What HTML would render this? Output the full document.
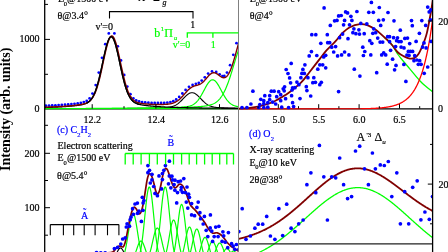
<!DOCTYPE html>
<html><head><meta charset="utf-8"><title>Spectra</title>
<style>html,body{margin:0;padding:0;background:#fff;width:448px;height:252px;overflow:hidden}svg{display:block;filter:blur(0.3px)}</style>
</head><body>
<svg width="448" height="252" viewBox="0 0 448 252" font-family="'Liberation Serif', serif"><defs><clipPath id="ca"><rect x="45" y="-5" width="193.5" height="114.2"/></clipPath><clipPath id="cb"><rect x="238.5" y="-5" width="194.1" height="114.5"/></clipPath><clipPath id="cc"><rect x="45" y="109" width="193.5" height="150"/></clipPath><clipPath id="cd"><rect x="238.5" y="109" width="194.1" height="150"/></clipPath></defs>
<line x1="45" y1="108.9" x2="432.6" y2="108.9" stroke="#000" stroke-width="1.3"/>
<g fill="#0000ff" clip-path="url(#ca)">
<circle cx="45.8" cy="105.7" r="1.4"/>
<circle cx="49.0" cy="105.6" r="1.4"/>
<circle cx="52.2" cy="105.4" r="1.4"/>
<circle cx="55.4" cy="105.3" r="1.4"/>
<circle cx="58.6" cy="105.1" r="1.4"/>
<circle cx="61.8" cy="104.9" r="1.4"/>
<circle cx="65.0" cy="104.7" r="1.4"/>
<circle cx="68.2" cy="104.4" r="1.4"/>
<circle cx="71.4" cy="104.1" r="1.4"/>
<circle cx="74.5" cy="103.8" r="1.4"/>
<circle cx="77.7" cy="103.4" r="1.4"/>
<circle cx="80.8" cy="102.9" r="1.4"/>
<circle cx="83.8" cy="102.1" r="1.4"/>
<circle cx="86.7" cy="100.9" r="1.4"/>
<circle cx="89.6" cy="98.4" r="1.4"/>
<circle cx="92.5" cy="93.6" r="1.4"/>
<circle cx="95.7" cy="85.1" r="1.4"/>
<circle cx="98.8" cy="72.6" r="1.4"/>
<circle cx="102.0" cy="57.8" r="1.4"/>
<circle cx="105.3" cy="44.2" r="1.4"/>
<circle cx="108.8" cy="33.4" r="1.4"/>
<circle cx="114.4" cy="33.4" r="1.4"/>
<circle cx="117.8" cy="46.3" r="1.4"/>
<circle cx="121.0" cy="60.4" r="1.4"/>
<circle cx="124.2" cy="74.9" r="1.4"/>
<circle cx="127.3" cy="86.6" r="1.4"/>
<circle cx="130.4" cy="94.2" r="1.4"/>
<circle cx="133.4" cy="98.4" r="1.4"/>
<circle cx="136.2" cy="100.5" r="1.4"/>
<circle cx="139.1" cy="101.5" r="1.4"/>
<circle cx="142.1" cy="102.1" r="1.4"/>
<circle cx="145.2" cy="102.4" r="1.4"/>
<circle cx="148.4" cy="102.7" r="1.4"/>
<circle cx="151.6" cy="102.9" r="1.4"/>
<circle cx="154.7" cy="103.0" r="1.4"/>
<circle cx="157.9" cy="103.0" r="1.4"/>
<circle cx="161.1" cy="103.0" r="1.4"/>
<circle cx="164.2" cy="102.9" r="1.4"/>
<circle cx="167.3" cy="102.6" r="1.4"/>
<circle cx="170.4" cy="102.1" r="1.4"/>
<circle cx="173.3" cy="101.2" r="1.4"/>
<circle cx="176.2" cy="99.5" r="1.4"/>
<circle cx="179.2" cy="96.9" r="1.4"/>
<circle cx="182.4" cy="93.5" r="1.4"/>
<circle cx="185.6" cy="89.9" r="1.4"/>
<circle cx="189.0" cy="86.8" r="1.4"/>
<circle cx="192.6" cy="84.9" r="1.4"/>
<circle cx="195.9" cy="83.8" r="1.4"/>
<circle cx="198.8" cy="82.8" r="1.4"/>
<circle cx="201.7" cy="80.6" r="1.4"/>
<circle cx="204.8" cy="77.3" r="1.4"/>
<circle cx="208.1" cy="73.6" r="1.4"/>
<circle cx="212.0" cy="71.4" r="1.4"/>
<circle cx="216.2" cy="72.0" r="1.4"/>
<circle cx="219.6" cy="74.3" r="1.4"/>
<circle cx="222.4" cy="76.1" r="1.4"/>
<circle cx="224.3" cy="75.9" r="1.4"/>
<circle cx="227.0" cy="72.6" r="1.4"/>
<circle cx="230.1" cy="65.2" r="1.4"/>
<circle cx="233.3" cy="54.8" r="1.4"/>
<circle cx="236.5" cy="43.2" r="1.4"/>
</g>
<g clip-path="url(#ca)" fill="none" stroke-linejoin="round">
<path d="M45.00,108.64 L45.50,108.64 L46.00,108.64 L46.50,108.64 L47.00,108.64 L47.50,108.64 L48.00,108.64 L48.50,108.64 L49.00,108.64 L49.50,108.64 L50.00,108.63 L50.50,108.63 L51.00,108.63 L51.50,108.63 L52.00,108.63 L52.50,108.63 L53.00,108.63 L53.50,108.63 L54.00,108.63 L54.50,108.63 L55.00,108.63 L55.50,108.63 L56.00,108.63 L56.50,108.63 L57.00,108.63 L57.50,108.63 L58.00,108.63 L58.50,108.63 L59.00,108.63 L59.50,108.63 L60.00,108.63 L60.50,108.62 L61.00,108.62 L61.50,108.62 L62.00,108.62 L62.50,108.62 L63.00,108.62 L63.50,108.62 L64.00,108.62 L64.50,108.62 L65.00,108.62 L65.50,108.62 L66.00,108.62 L66.50,108.62 L67.00,108.62 L67.50,108.62 L68.00,108.62 L68.50,108.61 L69.00,108.61 L69.50,108.61 L70.00,108.61 L70.50,108.61 L71.00,108.61 L71.50,108.61 L72.00,108.61 L72.50,108.61 L73.00,108.61 L73.50,108.61 L74.00,108.61 L74.50,108.61 L75.00,108.61 L75.50,108.60 L76.00,108.60 L76.50,108.60 L77.00,108.60 L77.50,108.60 L78.00,108.60 L78.50,108.60 L79.00,108.60 L79.50,108.60 L80.00,108.60 L80.50,108.60 L81.00,108.60 L81.50,108.59 L82.00,108.59 L82.50,108.59 L83.00,108.59 L83.50,108.59 L84.00,108.59 L84.50,108.59 L85.00,108.59 L85.50,108.59 L86.00,108.59 L86.50,108.59 L87.00,108.58 L87.50,108.58 L88.00,108.58 L88.50,108.58 L89.00,108.58 L89.50,108.58 L90.00,108.58 L90.50,108.58 L91.00,108.58 L91.50,108.57 L92.00,108.57 L92.50,108.57 L93.00,108.57 L93.50,108.57 L94.00,108.57 L94.50,108.57 L95.00,108.57 L95.50,108.56 L96.00,108.56 L96.50,108.56 L97.00,108.56 L97.50,108.56 L98.00,108.56 L98.50,108.56 L99.00,108.56 L99.50,108.55 L100.00,108.55 L100.50,108.55 L101.00,108.55 L101.50,108.55 L102.00,108.55 L102.50,108.54 L103.00,108.54 L103.50,108.54 L104.00,108.54 L104.50,108.54 L105.00,108.54 L105.50,108.53 L106.00,108.53 L106.50,108.53 L107.00,108.53 L107.50,108.53 L108.00,108.53 L108.50,108.52 L109.00,108.52 L109.50,108.52 L110.00,108.52 L110.50,108.52 L111.00,108.51 L111.50,108.51 L112.00,108.51 L112.50,108.51 L113.00,108.50 L113.50,108.50 L114.00,108.50 L114.50,108.50 L115.00,108.50 L115.50,108.49 L116.00,108.49 L116.50,108.49 L117.00,108.49 L117.50,108.48 L118.00,108.48 L118.50,108.48 L119.00,108.48 L119.50,108.47 L120.00,108.47 L120.50,108.47 L121.00,108.46 L121.50,108.46 L122.00,108.46 L122.50,108.46 L123.00,108.45 L123.50,108.45 L124.00,108.45 L124.50,108.44 L125.00,108.44 L125.50,108.44 L126.00,108.43 L126.50,108.43 L127.00,108.43 L127.50,108.42 L128.00,108.42 L128.50,108.41 L129.00,108.41 L129.50,108.41 L130.00,108.40 L130.50,108.40 L131.00,108.39 L131.50,108.39 L132.00,108.39 L132.50,108.38 L133.00,108.38 L133.50,108.37 L134.00,108.37 L134.50,108.36 L135.00,108.36 L135.50,108.35 L136.00,108.35 L136.50,108.34 L137.00,108.34 L137.50,108.33 L138.00,108.33 L138.50,108.32 L139.00,108.32 L139.50,108.31 L140.00,108.30 L140.50,108.30 L141.00,108.29 L141.50,108.28 L142.00,108.28 L142.50,108.27 L143.00,108.26 L143.50,108.26 L144.00,108.25 L144.50,108.24 L145.00,108.24 L145.50,108.23 L146.00,108.22 L146.50,108.21 L147.00,108.21 L147.50,108.20 L148.00,108.19 L148.50,108.18 L149.00,108.17 L149.50,108.16 L150.00,108.15 L150.50,108.14 L151.00,108.13 L151.50,108.12 L152.00,108.11 L152.50,108.10 L153.00,108.09 L153.50,108.08 L154.00,108.07 L154.50,108.06 L155.00,108.05 L155.50,108.04 L156.00,108.03 L156.50,108.01 L157.00,108.00 L157.50,107.99 L158.00,107.97 L158.50,107.96 L159.00,107.94 L159.50,107.93 L160.00,107.91 L160.50,107.89 L161.00,107.87 L161.50,107.86 L162.00,107.84 L162.50,107.81 L163.00,107.79 L163.50,107.76 L164.00,107.74 L164.50,107.71 L165.00,107.67 L165.50,107.64 L166.00,107.60 L166.50,107.55 L167.00,107.51 L167.50,107.45 L168.00,107.39 L168.50,107.33 L169.00,107.25 L169.50,107.17 L170.00,107.08 L170.50,106.98 L171.00,106.87 L171.50,106.75 L172.00,106.61 L172.50,106.46 L173.00,106.29 L173.50,106.11 L174.00,105.91 L174.50,105.69 L175.00,105.45 L175.50,105.20 L176.00,104.92 L176.50,104.62 L177.00,104.30 L177.50,103.96 L178.00,103.60 L178.50,103.21 L179.00,102.80 L179.50,102.38 L180.00,101.93 L180.50,101.47 L181.00,100.99 L181.50,100.50 L182.00,99.99 L182.50,99.48 L183.00,98.96 L183.50,98.44 L184.00,97.91 L184.50,97.40 L185.00,96.89 L185.50,96.39 L186.00,95.91 L186.50,95.45 L187.00,95.01 L187.50,94.60 L188.00,94.22 L188.50,93.88 L189.00,93.58 L189.50,93.32 L190.00,93.10 L190.50,92.92 L191.00,92.80 L191.50,92.73 L192.00,92.70 L192.50,92.73 L193.00,92.80 L193.50,92.92 L194.00,93.10 L194.50,93.32 L195.00,93.58 L195.50,93.88 L196.00,94.22 L196.50,94.60 L197.00,95.01 L197.50,95.45 L198.00,95.91 L198.50,96.39 L199.00,96.89 L199.50,97.40 L200.00,97.91 L200.50,98.44 L201.00,98.96 L201.50,99.48 L202.00,99.99 L202.50,100.50 L203.00,100.99 L203.50,101.47 L204.00,101.93 L204.50,102.38 L205.00,102.80 L205.50,103.21 L206.00,103.60 L206.50,103.96 L207.00,104.30 L207.50,104.62 L208.00,104.92 L208.50,105.20 L209.00,105.45 L209.50,105.69 L210.00,105.91 L210.50,106.11 L211.00,106.29 L211.50,106.46 L212.00,106.61 L212.50,106.75 L213.00,106.87 L213.50,106.98 L214.00,107.08 L214.50,107.17 L215.00,107.25 L215.50,107.33 L216.00,107.39 L216.50,107.45 L217.00,107.51 L217.50,107.55 L218.00,107.60 L218.50,107.64 L219.00,107.67 L219.50,107.71 L220.00,107.74 L220.50,107.76 L221.00,107.79 L221.50,107.81 L222.00,107.84 L222.50,107.86 L223.00,107.87 L223.50,107.89 L224.00,107.91 L224.50,107.93 L225.00,107.94 L225.50,107.96 L226.00,107.97 L226.50,107.99 L227.00,108.00 L227.50,108.01 L228.00,108.03 L228.50,108.04 L229.00,108.05 L229.50,108.06 L230.00,108.07 L230.50,108.08 L231.00,108.09 L231.50,108.10 L232.00,108.11 L232.50,108.12 L233.00,108.13 L233.50,108.14 L234.00,108.15 L234.50,108.16 L235.00,108.17 L235.50,108.18 L236.00,108.19 L236.50,108.20 L237.00,108.21 L237.50,108.21 L238.00,108.22 L238.50,108.23" stroke="#000" stroke-width="1.1"/>
<path d="M45.00,108.61 L45.50,108.61 L46.00,108.61 L46.50,108.61 L47.00,108.61 L47.50,108.61 L48.00,108.61 L48.50,108.61 L49.00,108.61 L49.50,108.61 L50.00,108.61 L50.50,108.61 L51.00,108.61 L51.50,108.61 L52.00,108.61 L52.50,108.61 L53.00,108.61 L53.50,108.61 L54.00,108.61 L54.50,108.60 L55.00,108.60 L55.50,108.60 L56.00,108.60 L56.50,108.60 L57.00,108.60 L57.50,108.60 L58.00,108.60 L58.50,108.60 L59.00,108.60 L59.50,108.60 L60.00,108.60 L60.50,108.60 L61.00,108.60 L61.50,108.60 L62.00,108.60 L62.50,108.59 L63.00,108.59 L63.50,108.59 L64.00,108.59 L64.50,108.59 L65.00,108.59 L65.50,108.59 L66.00,108.59 L66.50,108.59 L67.00,108.59 L67.50,108.59 L68.00,108.59 L68.50,108.59 L69.00,108.59 L69.50,108.58 L70.00,108.58 L70.50,108.58 L71.00,108.58 L71.50,108.58 L72.00,108.58 L72.50,108.58 L73.00,108.58 L73.50,108.58 L74.00,108.58 L74.50,108.58 L75.00,108.58 L75.50,108.57 L76.00,108.57 L76.50,108.57 L77.00,108.57 L77.50,108.57 L78.00,108.57 L78.50,108.57 L79.00,108.57 L79.50,108.57 L80.00,108.57 L80.50,108.56 L81.00,108.56 L81.50,108.56 L82.00,108.56 L82.50,108.56 L83.00,108.56 L83.50,108.56 L84.00,108.56 L84.50,108.56 L85.00,108.56 L85.50,108.55 L86.00,108.55 L86.50,108.55 L87.00,108.55 L87.50,108.55 L88.00,108.55 L88.50,108.55 L89.00,108.55 L89.50,108.55 L90.00,108.54 L90.50,108.54 L91.00,108.54 L91.50,108.54 L92.00,108.54 L92.50,108.54 L93.00,108.54 L93.50,108.54 L94.00,108.53 L94.50,108.53 L95.00,108.53 L95.50,108.53 L96.00,108.53 L96.50,108.53 L97.00,108.53 L97.50,108.52 L98.00,108.52 L98.50,108.52 L99.00,108.52 L99.50,108.52 L100.00,108.52 L100.50,108.52 L101.00,108.51 L101.50,108.51 L102.00,108.51 L102.50,108.51 L103.00,108.51 L103.50,108.51 L104.00,108.50 L104.50,108.50 L105.00,108.50 L105.50,108.50 L106.00,108.50 L106.50,108.50 L107.00,108.49 L107.50,108.49 L108.00,108.49 L108.50,108.49 L109.00,108.49 L109.50,108.48 L110.00,108.48 L110.50,108.48 L111.00,108.48 L111.50,108.48 L112.00,108.47 L112.50,108.47 L113.00,108.47 L113.50,108.47 L114.00,108.47 L114.50,108.46 L115.00,108.46 L115.50,108.46 L116.00,108.46 L116.50,108.45 L117.00,108.45 L117.50,108.45 L118.00,108.45 L118.50,108.44 L119.00,108.44 L119.50,108.44 L120.00,108.44 L120.50,108.43 L121.00,108.43 L121.50,108.43 L122.00,108.43 L122.50,108.42 L123.00,108.42 L123.50,108.42 L124.00,108.41 L124.50,108.41 L125.00,108.41 L125.50,108.40 L126.00,108.40 L126.50,108.40 L127.00,108.40 L127.50,108.39 L128.00,108.39 L128.50,108.39 L129.00,108.38 L129.50,108.38 L130.00,108.37 L130.50,108.37 L131.00,108.37 L131.50,108.36 L132.00,108.36 L132.50,108.36 L133.00,108.35 L133.50,108.35 L134.00,108.34 L134.50,108.34 L135.00,108.34 L135.50,108.33 L136.00,108.33 L136.50,108.32 L137.00,108.32 L137.50,108.31 L138.00,108.31 L138.50,108.31 L139.00,108.30 L139.50,108.30 L140.00,108.29 L140.50,108.29 L141.00,108.28 L141.50,108.28 L142.00,108.27 L142.50,108.26 L143.00,108.26 L143.50,108.25 L144.00,108.25 L144.50,108.24 L145.00,108.24 L145.50,108.23 L146.00,108.22 L146.50,108.22 L147.00,108.21 L147.50,108.21 L148.00,108.20 L148.50,108.19 L149.00,108.19 L149.50,108.18 L150.00,108.17 L150.50,108.16 L151.00,108.16 L151.50,108.15 L152.00,108.14 L152.50,108.13 L153.00,108.13 L153.50,108.12 L154.00,108.11 L154.50,108.10 L155.00,108.09 L155.50,108.08 L156.00,108.07 L156.50,108.07 L157.00,108.06 L157.50,108.05 L158.00,108.04 L158.50,108.03 L159.00,108.02 L159.50,108.01 L160.00,108.00 L160.50,107.99 L161.00,107.97 L161.50,107.96 L162.00,107.95 L162.50,107.94 L163.00,107.93 L163.50,107.92 L164.00,107.90 L164.50,107.89 L165.00,107.88 L165.50,107.87 L166.00,107.85 L166.50,107.84 L167.00,107.82 L167.50,107.81 L168.00,107.79 L168.50,107.78 L169.00,107.76 L169.50,107.75 L170.00,107.73 L170.50,107.72 L171.00,107.70 L171.50,107.68 L172.00,107.66 L172.50,107.65 L173.00,107.63 L173.50,107.61 L174.00,107.59 L174.50,107.57 L175.00,107.55 L175.50,107.53 L176.00,107.51 L176.50,107.49 L177.00,107.46 L177.50,107.44 L178.00,107.42 L178.50,107.39 L179.00,107.36 L179.50,107.34 L180.00,107.31 L180.50,107.28 L181.00,107.25 L181.50,107.22 L182.00,107.18 L182.50,107.15 L183.00,107.11 L183.50,107.06 L184.00,107.02 L184.50,106.97 L185.00,106.92 L185.50,106.86 L186.00,106.80 L186.50,106.73 L187.00,106.65 L187.50,106.56 L188.00,106.47 L188.50,106.36 L189.00,106.25 L189.50,106.12 L190.00,105.97 L190.50,105.81 L191.00,105.63 L191.50,105.44 L192.00,105.22 L192.50,104.97 L193.00,104.71 L193.50,104.41 L194.00,104.09 L194.50,103.73 L195.00,103.35 L195.50,102.93 L196.00,102.47 L196.50,101.98 L197.00,101.44 L197.50,100.87 L198.00,100.26 L198.50,99.61 L199.00,98.93 L199.50,98.20 L200.00,97.44 L200.50,96.64 L201.00,95.81 L201.50,94.95 L202.00,94.06 L202.50,93.15 L203.00,92.23 L203.50,91.29 L204.00,90.35 L204.50,89.41 L205.00,88.47 L205.50,87.55 L206.00,86.64 L206.50,85.77 L207.00,84.93 L207.50,84.13 L208.00,83.38 L208.50,82.68 L209.00,82.05 L209.50,81.49 L210.00,81.00 L210.50,80.59 L211.00,80.26 L211.50,80.02 L212.00,79.87 L212.50,79.80 L213.00,79.83 L213.50,79.95 L214.00,80.15 L214.50,80.45 L215.00,80.83 L215.50,81.28 L216.00,81.82 L216.50,82.42 L217.00,83.09 L217.50,83.82 L218.00,84.60 L218.50,85.43 L219.00,86.29 L219.50,87.18 L220.00,88.10 L220.50,89.03 L221.00,89.97 L221.50,90.92 L222.00,91.86 L222.50,92.79 L223.00,93.70 L223.50,94.60 L224.00,95.47 L224.50,96.31 L225.00,97.12 L225.50,97.90 L226.00,98.64 L226.50,99.34 L227.00,100.01 L227.50,100.63 L228.00,101.22 L228.50,101.77 L229.00,102.28 L229.50,102.75 L230.00,103.18 L230.50,103.58 L231.00,103.95 L231.50,104.29 L232.00,104.59 L232.50,104.87 L233.00,105.12 L233.50,105.35 L234.00,105.56 L234.50,105.74 L235.00,105.91 L235.50,106.06 L236.00,106.20 L236.50,106.32 L237.00,106.43 L237.50,106.53 L238.00,106.61 L238.50,106.70" stroke="#00ff00" stroke-width="1.2"/>
<path d="M45.00,108.56 L45.50,108.55 L46.00,108.55 L46.50,108.55 L47.00,108.55 L47.50,108.55 L48.00,108.55 L48.50,108.55 L49.00,108.55 L49.50,108.55 L50.00,108.55 L50.50,108.55 L51.00,108.55 L51.50,108.55 L52.00,108.54 L52.50,108.54 L53.00,108.54 L53.50,108.54 L54.00,108.54 L54.50,108.54 L55.00,108.54 L55.50,108.54 L56.00,108.54 L56.50,108.54 L57.00,108.54 L57.50,108.54 L58.00,108.53 L58.50,108.53 L59.00,108.53 L59.50,108.53 L60.00,108.53 L60.50,108.53 L61.00,108.53 L61.50,108.53 L62.00,108.53 L62.50,108.53 L63.00,108.53 L63.50,108.52 L64.00,108.52 L64.50,108.52 L65.00,108.52 L65.50,108.52 L66.00,108.52 L66.50,108.52 L67.00,108.52 L67.50,108.52 L68.00,108.52 L68.50,108.52 L69.00,108.51 L69.50,108.51 L70.00,108.51 L70.50,108.51 L71.00,108.51 L71.50,108.51 L72.00,108.51 L72.50,108.51 L73.00,108.51 L73.50,108.50 L74.00,108.50 L74.50,108.50 L75.00,108.50 L75.50,108.50 L76.00,108.50 L76.50,108.50 L77.00,108.50 L77.50,108.50 L78.00,108.49 L78.50,108.49 L79.00,108.49 L79.50,108.49 L80.00,108.49 L80.50,108.49 L81.00,108.49 L81.50,108.49 L82.00,108.48 L82.50,108.48 L83.00,108.48 L83.50,108.48 L84.00,108.48 L84.50,108.48 L85.00,108.48 L85.50,108.48 L86.00,108.47 L86.50,108.47 L87.00,108.47 L87.50,108.47 L88.00,108.47 L88.50,108.47 L89.00,108.47 L89.50,108.46 L90.00,108.46 L90.50,108.46 L91.00,108.46 L91.50,108.46 L92.00,108.46 L92.50,108.45 L93.00,108.45 L93.50,108.45 L94.00,108.45 L94.50,108.45 L95.00,108.45 L95.50,108.45 L96.00,108.44 L96.50,108.44 L97.00,108.44 L97.50,108.44 L98.00,108.44 L98.50,108.44 L99.00,108.43 L99.50,108.43 L100.00,108.43 L100.50,108.43 L101.00,108.43 L101.50,108.42 L102.00,108.42 L102.50,108.42 L103.00,108.42 L103.50,108.42 L104.00,108.41 L104.50,108.41 L105.00,108.41 L105.50,108.41 L106.00,108.41 L106.50,108.40 L107.00,108.40 L107.50,108.40 L108.00,108.40 L108.50,108.40 L109.00,108.39 L109.50,108.39 L110.00,108.39 L110.50,108.39 L111.00,108.39 L111.50,108.38 L112.00,108.38 L112.50,108.38 L113.00,108.38 L113.50,108.37 L114.00,108.37 L114.50,108.37 L115.00,108.37 L115.50,108.36 L116.00,108.36 L116.50,108.36 L117.00,108.36 L117.50,108.35 L118.00,108.35 L118.50,108.35 L119.00,108.35 L119.50,108.34 L120.00,108.34 L120.50,108.34 L121.00,108.34 L121.50,108.33 L122.00,108.33 L122.50,108.33 L123.00,108.32 L123.50,108.32 L124.00,108.32 L124.50,108.32 L125.00,108.31 L125.50,108.31 L126.00,108.31 L126.50,108.30 L127.00,108.30 L127.50,108.30 L128.00,108.29 L128.50,108.29 L129.00,108.29 L129.50,108.28 L130.00,108.28 L130.50,108.28 L131.00,108.27 L131.50,108.27 L132.00,108.27 L132.50,108.26 L133.00,108.26 L133.50,108.25 L134.00,108.25 L134.50,108.25 L135.00,108.24 L135.50,108.24 L136.00,108.24 L136.50,108.23 L137.00,108.23 L137.50,108.22 L138.00,108.22 L138.50,108.21 L139.00,108.21 L139.50,108.21 L140.00,108.20 L140.50,108.20 L141.00,108.19 L141.50,108.19 L142.00,108.18 L142.50,108.18 L143.00,108.17 L143.50,108.17 L144.00,108.16 L144.50,108.16 L145.00,108.15 L145.50,108.15 L146.00,108.14 L146.50,108.14 L147.00,108.13 L147.50,108.13 L148.00,108.12 L148.50,108.12 L149.00,108.11 L149.50,108.11 L150.00,108.10 L150.50,108.09 L151.00,108.09 L151.50,108.08 L152.00,108.08 L152.50,108.07 L153.00,108.06 L153.50,108.06 L154.00,108.05 L154.50,108.05 L155.00,108.04 L155.50,108.03 L156.00,108.02 L156.50,108.02 L157.00,108.01 L157.50,108.00 L158.00,108.00 L158.50,107.99 L159.00,107.98 L159.50,107.97 L160.00,107.97 L160.50,107.96 L161.00,107.95 L161.50,107.94 L162.00,107.93 L162.50,107.93 L163.00,107.92 L163.50,107.91 L164.00,107.90 L164.50,107.89 L165.00,107.88 L165.50,107.87 L166.00,107.86 L166.50,107.85 L167.00,107.84 L167.50,107.83 L168.00,107.82 L168.50,107.81 L169.00,107.80 L169.50,107.79 L170.00,107.78 L170.50,107.77 L171.00,107.76 L171.50,107.75 L172.00,107.74 L172.50,107.73 L173.00,107.72 L173.50,107.70 L174.00,107.69 L174.50,107.68 L175.00,107.67 L175.50,107.65 L176.00,107.64 L176.50,107.63 L177.00,107.61 L177.50,107.60 L178.00,107.59 L178.50,107.57 L179.00,107.56 L179.50,107.54 L180.00,107.53 L180.50,107.51 L181.00,107.50 L181.50,107.48 L182.00,107.46 L182.50,107.45 L183.00,107.43 L183.50,107.41 L184.00,107.40 L184.50,107.38 L185.00,107.36 L185.50,107.34 L186.00,107.32 L186.50,107.30 L187.00,107.28 L187.50,107.26 L188.00,107.24 L188.50,107.22 L189.00,107.20 L189.50,107.18 L190.00,107.16 L190.50,107.13 L191.00,107.11 L191.50,107.09 L192.00,107.06 L192.50,107.04 L193.00,107.01 L193.50,106.98 L194.00,106.96 L194.50,106.93 L195.00,106.90 L195.50,106.87 L196.00,106.84 L196.50,106.81 L197.00,106.78 L197.50,106.75 L198.00,106.71 L198.50,106.68 L199.00,106.64 L199.50,106.60 L200.00,106.56 L200.50,106.52 L201.00,106.48 L201.50,106.43 L202.00,106.39 L202.50,106.34 L203.00,106.28 L203.50,106.23 L204.00,106.17 L204.50,106.11 L205.00,106.04 L205.50,105.97 L206.00,105.90 L206.50,105.82 L207.00,105.73 L207.50,105.64 L208.00,105.54 L208.50,105.44 L209.00,105.32 L209.50,105.20 L210.00,105.06 L210.50,104.92 L211.00,104.77 L211.50,104.60 L212.00,104.42 L212.50,104.22 L213.00,104.01 L213.50,103.78 L214.00,103.53 L214.50,103.26 L215.00,102.97 L215.50,102.65 L216.00,102.32 L216.50,101.95 L217.00,101.56 L217.50,101.14 L218.00,100.69 L218.50,100.20 L219.00,99.69 L219.50,99.13 L220.00,98.54 L220.50,97.90 L221.00,97.23 L221.50,96.52 L222.00,95.76 L222.50,94.95 L223.00,94.10 L223.50,93.21 L224.00,92.26 L224.50,91.27 L225.00,90.23 L225.50,89.14 L226.00,88.00 L226.50,86.81 L227.00,85.57 L227.50,84.29 L228.00,82.96 L228.50,81.59 L229.00,80.17 L229.50,78.72 L230.00,77.23 L230.50,75.70 L231.00,74.14 L231.50,72.56 L232.00,70.95 L232.50,69.32 L233.00,67.68 L233.50,66.03 L234.00,64.37 L234.50,62.72 L235.00,61.07 L235.50,59.43 L236.00,57.82 L236.50,56.23 L237.00,54.67 L237.50,53.15 L238.00,51.68 L238.50,50.25" stroke="#00ff00" stroke-width="1.2"/>
<line x1="45" y1="108.70" x2="238.5" y2="108.70" stroke="#00ff00" stroke-width="1.6"/>
<path d="M45.00,107.50 L45.50,107.49 L46.00,107.47 L46.50,107.45 L47.00,107.44 L47.50,107.42 L48.00,107.40 L48.50,107.39 L49.00,107.37 L49.50,107.35 L50.00,107.33 L50.50,107.31 L51.00,107.29 L51.50,107.27 L52.00,107.25 L52.50,107.23 L53.00,107.21 L53.50,107.19 L54.00,107.17 L54.50,107.15 L55.00,107.12 L55.50,107.10 L56.00,107.08 L56.50,107.05 L57.00,107.03 L57.50,107.00 L58.00,106.98 L58.50,106.95 L59.00,106.93 L59.50,106.90 L60.00,106.87 L60.50,106.84 L61.00,106.81 L61.50,106.78 L62.00,106.75 L62.50,106.72 L63.00,106.69 L63.50,106.66 L64.00,106.63 L64.50,106.59 L65.00,106.56 L65.50,106.52 L66.00,106.49 L66.50,106.45 L67.00,106.42 L67.50,106.38 L68.00,106.34 L68.50,106.30 L69.00,106.26 L69.50,106.22 L70.00,106.17 L70.50,106.13 L71.00,106.08 L71.50,106.04 L72.00,105.99 L72.50,105.94 L73.00,105.89 L73.50,105.84 L74.00,105.79 L74.50,105.74 L75.00,105.68 L75.50,105.63 L76.00,105.57 L76.50,105.51 L77.00,105.45 L77.50,105.39 L78.00,105.32 L78.50,105.25 L79.00,105.18 L79.50,105.10 L80.00,105.02 L80.50,104.94 L81.00,104.85 L81.50,104.75 L82.00,104.65 L82.50,104.54 L83.00,104.42 L83.50,104.29 L84.00,104.14 L84.50,103.99 L85.00,103.82 L85.50,103.63 L86.00,103.42 L86.50,103.19 L87.00,102.93 L87.50,102.65 L88.00,102.33 L88.50,101.98 L89.00,101.59 L89.50,101.15 L90.00,100.67 L90.50,100.13 L91.00,99.54 L91.50,98.89 L92.00,98.17 L92.50,97.38 L93.00,96.51 L93.50,95.56 L94.00,94.53 L94.50,93.41 L95.00,92.20 L95.50,90.89 L96.00,89.49 L96.50,87.99 L97.00,86.39 L97.50,84.70 L98.00,82.91 L98.50,81.03 L99.00,79.05 L99.50,77.00 L100.00,74.87 L100.50,72.68 L101.00,70.43 L101.50,68.13 L102.00,65.80 L102.50,63.45 L103.00,61.10 L103.50,58.77 L104.00,56.46 L104.50,54.20 L105.00,52.00 L105.50,49.88 L106.00,47.87 L106.50,45.98 L107.00,44.22 L107.50,42.61 L108.00,41.17 L108.50,39.92 L109.00,38.85 L109.50,37.99 L110.00,37.35 L110.50,36.92 L111.00,36.72 L111.50,36.74 L112.00,36.99 L112.50,37.46 L113.00,38.15 L113.50,39.05 L114.00,40.15 L114.50,41.45 L115.00,42.92 L115.50,44.56 L116.00,46.35 L116.50,48.27 L117.00,50.30 L117.50,52.43 L118.00,54.64 L118.50,56.92 L119.00,59.23 L119.50,61.57 L120.00,63.92 L120.50,66.27 L121.00,68.59 L121.50,70.88 L122.00,73.12 L122.50,75.30 L123.00,77.42 L123.50,79.46 L124.00,81.41 L124.50,83.27 L125.00,85.05 L125.50,86.72 L126.00,88.30 L126.50,89.78 L127.00,91.16 L127.50,92.45 L128.00,93.64 L128.50,94.75 L129.00,95.76 L129.50,96.69 L130.00,97.54 L130.50,98.32 L131.00,99.03 L131.50,99.67 L132.00,100.25 L132.50,100.77 L133.00,101.24 L133.50,101.67 L134.00,102.05 L134.50,102.40 L135.00,102.71 L135.50,102.99 L136.00,103.24 L136.50,103.46 L137.00,103.67 L137.50,103.85 L138.00,104.02 L138.50,104.17 L139.00,104.31 L139.50,104.44 L140.00,104.56 L140.50,104.67 L141.00,104.77 L141.50,104.86 L142.00,104.95 L142.50,105.04 L143.00,105.12 L143.50,105.19 L144.00,105.26 L144.50,105.33 L145.00,105.40 L145.50,105.46 L146.00,105.52 L146.50,105.58 L147.00,105.64 L147.50,105.70 L148.00,105.75 L148.50,105.80 L149.00,105.85 L149.50,105.90 L150.00,105.95 L150.50,106.00 L151.00,106.05 L151.50,106.09 L152.00,106.14 L152.50,106.18 L153.00,106.22 L153.50,106.27 L154.00,106.31 L154.50,106.35 L155.00,106.38 L155.50,106.42 L156.00,106.46 L156.50,106.50 L157.00,106.53 L157.50,106.57 L158.00,106.60 L158.50,106.63 L159.00,106.67 L159.50,106.70 L160.00,106.73 L160.50,106.76 L161.00,106.79 L161.50,106.82 L162.00,106.85 L162.50,106.88 L163.00,106.90 L163.50,106.93 L164.00,106.96 L164.50,106.98 L165.00,107.01 L165.50,107.03 L166.00,107.06 L166.50,107.08 L167.00,107.11 L167.50,107.13 L168.00,107.15 L168.50,107.17 L169.00,107.20 L169.50,107.22 L170.00,107.24 L170.50,107.26 L171.00,107.28 L171.50,107.30 L172.00,107.32 L172.50,107.34 L173.00,107.35 L173.50,107.37 L174.00,107.39 L174.50,107.41 L175.00,107.42 L175.50,107.44 L176.00,107.46 L176.50,107.47 L177.00,107.49 L177.50,107.51 L178.00,107.52 L178.50,107.54 L179.00,107.55 L179.50,107.57 L180.00,107.58 L180.50,107.59 L181.00,107.61 L181.50,107.62 L182.00,107.63 L182.50,107.65 L183.00,107.66 L183.50,107.67 L184.00,107.68 L184.50,107.70 L185.00,107.71 L185.50,107.72 L186.00,107.73 L186.50,107.74 L187.00,107.75 L187.50,107.77 L188.00,107.78 L188.50,107.79 L189.00,107.80 L189.50,107.81 L190.00,107.82 L190.50,107.83 L191.00,107.84 L191.50,107.85 L192.00,107.86 L192.50,107.87 L193.00,107.88 L193.50,107.88 L194.00,107.89 L194.50,107.90 L195.00,107.91 L195.50,107.92 L196.00,107.93 L196.50,107.94 L197.00,107.94 L197.50,107.95 L198.00,107.96 L198.50,107.97 L199.00,107.97 L199.50,107.98 L200.00,107.99 L200.50,108.00 L201.00,108.00 L201.50,108.01 L202.00,108.02 L202.50,108.03 L203.00,108.03 L203.50,108.04 L204.00,108.05 L204.50,108.05 L205.00,108.06 L205.50,108.06 L206.00,108.07 L206.50,108.08 L207.00,108.08 L207.50,108.09 L208.00,108.09 L208.50,108.10 L209.00,108.11 L209.50,108.11 L210.00,108.12 L210.50,108.12 L211.00,108.13 L211.50,108.13 L212.00,108.14 L212.50,108.14 L213.00,108.15 L213.50,108.15 L214.00,108.16 L214.50,108.16 L215.00,108.17 L215.50,108.17 L216.00,108.18 L216.50,108.18 L217.00,108.19 L217.50,108.19 L218.00,108.20 L218.50,108.20 L219.00,108.20 L219.50,108.21 L220.00,108.21 L220.50,108.22 L221.00,108.22 L221.50,108.23 L222.00,108.23 L222.50,108.23 L223.00,108.24 L223.50,108.24 L224.00,108.25 L224.50,108.25 L225.00,108.25 L225.50,108.26 L226.00,108.26 L226.50,108.26 L227.00,108.27 L227.50,108.27 L228.00,108.27 L228.50,108.28 L229.00,108.28 L229.50,108.28 L230.00,108.29 L230.50,108.29 L231.00,108.29 L231.50,108.30 L232.00,108.30 L232.50,108.30 L233.00,108.31 L233.50,108.31 L234.00,108.31 L234.50,108.32 L235.00,108.32 L235.50,108.32 L236.00,108.32 L236.50,108.33 L237.00,108.33 L237.50,108.33 L238.00,108.34 L238.50,108.34" stroke="#000" stroke-width="1.3"/>
<path d="M45.00,107.21 L45.50,107.19 L46.00,107.18 L46.50,107.16 L47.00,107.14 L47.50,107.12 L48.00,107.10 L48.50,107.08 L49.00,107.06 L49.50,107.04 L50.00,107.02 L50.50,107.00 L51.00,106.98 L51.50,106.96 L52.00,106.94 L52.50,106.92 L53.00,106.89 L53.50,106.87 L54.00,106.85 L54.50,106.82 L55.00,106.80 L55.50,106.77 L56.00,106.75 L56.50,106.72 L57.00,106.70 L57.50,106.67 L58.00,106.64 L58.50,106.61 L59.00,106.58 L59.50,106.56 L60.00,106.53 L60.50,106.50 L61.00,106.46 L61.50,106.43 L62.00,106.40 L62.50,106.37 L63.00,106.33 L63.50,106.30 L64.00,106.26 L64.50,106.23 L65.00,106.19 L65.50,106.15 L66.00,106.12 L66.50,106.08 L67.00,106.04 L67.50,106.00 L68.00,105.96 L68.50,105.91 L69.00,105.87 L69.50,105.83 L70.00,105.78 L70.50,105.74 L71.00,105.69 L71.50,105.64 L72.00,105.59 L72.50,105.54 L73.00,105.49 L73.50,105.43 L74.00,105.38 L74.50,105.32 L75.00,105.27 L75.50,105.21 L76.00,105.15 L76.50,105.08 L77.00,105.02 L77.50,104.95 L78.00,104.88 L78.50,104.81 L79.00,104.74 L79.50,104.66 L80.00,104.57 L80.50,104.49 L81.00,104.39 L81.50,104.29 L82.00,104.19 L82.50,104.07 L83.00,103.95 L83.50,103.82 L84.00,103.67 L84.50,103.51 L85.00,103.34 L85.50,103.14 L86.00,102.93 L86.50,102.70 L87.00,102.44 L87.50,102.15 L88.00,101.83 L88.50,101.47 L89.00,101.08 L89.50,100.64 L90.00,100.15 L90.50,99.62 L91.00,99.02 L91.50,98.36 L92.00,97.64 L92.50,96.84 L93.00,95.97 L93.50,95.02 L94.00,93.99 L94.50,92.86 L95.00,91.65 L95.50,90.33 L96.00,88.93 L96.50,87.42 L97.00,85.82 L97.50,84.12 L98.00,82.33 L98.50,80.44 L99.00,78.46 L99.50,76.40 L100.00,74.27 L100.50,72.07 L101.00,69.82 L101.50,67.51 L102.00,65.18 L102.50,62.83 L103.00,60.47 L103.50,58.13 L104.00,55.82 L104.50,53.55 L105.00,51.35 L105.50,49.23 L106.00,47.21 L106.50,45.31 L107.00,43.54 L107.50,41.93 L108.00,40.49 L108.50,39.23 L109.00,38.16 L109.50,37.29 L110.00,36.64 L110.50,36.20 L111.00,36.00 L111.50,36.01 L112.00,36.25 L112.50,36.72 L113.00,37.40 L113.50,38.29 L114.00,39.39 L114.50,40.68 L115.00,42.14 L115.50,43.78 L116.00,45.55 L116.50,47.47 L117.00,49.49 L117.50,51.62 L118.00,53.82 L118.50,56.09 L119.00,58.39 L119.50,60.73 L120.00,63.07 L120.50,65.41 L121.00,67.72 L121.50,70.00 L122.00,72.24 L122.50,74.41 L123.00,76.51 L123.50,78.54 L124.00,80.49 L124.50,82.34 L125.00,84.11 L125.50,85.77 L126.00,87.34 L126.50,88.81 L127.00,90.18 L127.50,91.46 L128.00,92.64 L128.50,93.74 L129.00,94.74 L129.50,95.66 L130.00,96.50 L130.50,97.26 L131.00,97.96 L131.50,98.59 L132.00,99.16 L132.50,99.67 L133.00,100.13 L133.50,100.54 L134.00,100.91 L134.50,101.25 L135.00,101.54 L135.50,101.81 L136.00,102.05 L136.50,102.26 L137.00,102.45 L137.50,102.62 L138.00,102.78 L138.50,102.91 L139.00,103.04 L139.50,103.15 L140.00,103.25 L140.50,103.35 L141.00,103.43 L141.50,103.51 L142.00,103.58 L142.50,103.65 L143.00,103.71 L143.50,103.77 L144.00,103.83 L144.50,103.88 L145.00,103.93 L145.50,103.97 L146.00,104.01 L146.50,104.05 L147.00,104.09 L147.50,104.13 L148.00,104.16 L148.50,104.19 L149.00,104.22 L149.50,104.25 L150.00,104.28 L150.50,104.30 L151.00,104.33 L151.50,104.35 L152.00,104.37 L152.50,104.39 L153.00,104.41 L153.50,104.42 L154.00,104.44 L154.50,104.45 L155.00,104.46 L155.50,104.48 L156.00,104.48 L156.50,104.49 L157.00,104.50 L157.50,104.50 L158.00,104.51 L158.50,104.51 L159.00,104.51 L159.50,104.51 L160.00,104.50 L160.50,104.50 L161.00,104.49 L161.50,104.48 L162.00,104.47 L162.50,104.46 L163.00,104.44 L163.50,104.42 L164.00,104.40 L164.50,104.37 L165.00,104.34 L165.50,104.31 L166.00,104.27 L166.50,104.23 L167.00,104.18 L167.50,104.13 L168.00,104.07 L168.50,104.00 L169.00,103.92 L169.50,103.83 L170.00,103.74 L170.50,103.63 L171.00,103.51 L171.50,103.38 L172.00,103.23 L172.50,103.07 L173.00,102.89 L173.50,102.69 L174.00,102.48 L174.50,102.25 L175.00,102.00 L175.50,101.72 L176.00,101.43 L176.50,101.11 L177.00,100.77 L177.50,100.40 L178.00,100.02 L178.50,99.61 L179.00,99.18 L179.50,98.72 L180.00,98.25 L180.50,97.75 L181.00,97.24 L181.50,96.71 L182.00,96.17 L182.50,95.62 L183.00,95.06 L183.50,94.49 L184.00,93.91 L184.50,93.34 L185.00,92.77 L185.50,92.21 L186.00,91.66 L186.50,91.12 L187.00,90.60 L187.50,90.09 L188.00,89.61 L188.50,89.15 L189.00,88.72 L189.50,88.32 L190.00,87.94 L190.50,87.60 L191.00,87.28 L191.50,86.99 L192.00,86.73 L192.50,86.50 L193.00,86.29 L193.50,86.10 L194.00,85.94 L194.50,85.78 L195.00,85.64 L195.50,85.50 L196.00,85.36 L196.50,85.22 L197.00,85.08 L197.50,84.92 L198.00,84.74 L198.50,84.55 L199.00,84.33 L199.50,84.08 L200.00,83.80 L200.50,83.49 L201.00,83.15 L201.50,82.77 L202.00,82.36 L202.50,81.91 L203.00,81.44 L203.50,80.93 L204.00,80.40 L204.50,79.84 L205.00,79.27 L205.50,78.69 L206.00,78.11 L206.50,77.52 L207.00,76.94 L207.50,76.38 L208.00,75.83 L208.50,75.32 L209.00,74.83 L209.50,74.39 L210.00,73.99 L210.50,73.64 L211.00,73.34 L211.50,73.11 L212.00,72.93 L212.50,72.81 L213.00,72.75 L213.50,72.76 L214.00,72.82 L214.50,72.94 L215.00,73.11 L215.50,73.34 L216.00,73.60 L216.50,73.91 L217.00,74.24 L217.50,74.60 L218.00,74.97 L218.50,75.36 L219.00,75.74 L219.50,76.11 L220.00,76.46 L220.50,76.78 L221.00,77.07 L221.50,77.32 L222.00,77.52 L222.50,77.65 L223.00,77.73 L223.50,77.73 L224.00,77.65 L224.50,77.49 L225.00,77.25 L225.50,76.92 L226.00,76.49 L226.50,75.98 L227.00,75.36 L227.50,74.66 L228.00,73.85 L228.50,72.96 L229.00,71.96 L229.50,70.88 L230.00,69.71 L230.50,68.46 L231.00,67.13 L231.50,65.71 L232.00,64.23 L232.50,62.68 L233.00,61.07 L233.50,59.41 L234.00,57.70 L234.50,55.95 L235.00,54.16 L235.50,52.36 L236.00,50.53 L236.50,48.70 L237.00,46.87 L237.50,45.05 L238.00,43.26 L238.50,41.49" stroke="#800000" stroke-width="1.4" transform="translate(0.6,0)"/>
<path d="M86.50,103.19 L87.00,102.93 L87.50,102.65 L88.00,102.33 L88.50,101.98 L89.00,101.59 L89.50,101.15 L90.00,100.67 L90.50,100.13 L91.00,99.54 L91.50,98.89 L92.00,98.17 L92.50,97.38 L93.00,96.51 L93.50,95.56 L94.00,94.53 L94.50,93.41 L95.00,92.20 L95.50,90.89 L96.00,89.49 L96.50,87.99 L97.00,86.39 L97.50,84.70 L98.00,82.91 L98.50,81.03 L99.00,79.05 L99.50,77.00 L100.00,74.87 L100.50,72.68 L101.00,70.43 L101.50,68.13 L102.00,65.80 L102.50,63.45 L103.00,61.10 L103.50,58.77 L104.00,56.46 L104.50,54.20 L105.00,52.00 L105.50,49.88 L106.00,47.87 L106.50,45.98 L107.00,44.22 L107.50,42.61 L108.00,41.17 L108.50,39.92 L109.00,38.85 L109.50,37.99 L110.00,37.35 L110.50,36.92 L111.00,36.72 L111.50,36.74 L112.00,36.99 L112.50,37.46 L113.00,38.15 L113.50,39.05 L114.00,40.15 L114.50,41.45 L115.00,42.92 L115.50,44.56 L116.00,46.35 L116.50,48.27 L117.00,50.30 L117.50,52.43 L118.00,54.64 L118.50,56.92 L119.00,59.23 L119.50,61.57 L120.00,63.92 L120.50,66.27 L121.00,68.59 L121.50,70.88 L122.00,73.12 L122.50,75.30 L123.00,77.42 L123.50,79.46 L124.00,81.41 L124.50,83.27 L125.00,85.05 L125.50,86.72 L126.00,88.30 L126.50,89.78 L127.00,91.16 L127.50,92.45 L128.00,93.64 L128.50,94.75 L129.00,95.76 L129.50,96.69 L130.00,97.54 L130.50,98.32 L131.00,99.03 L131.50,99.67 L132.00,100.25 L132.50,100.77 L133.00,101.24 L133.50,101.67 L134.00,102.05 L134.50,102.40 L135.00,102.71 L135.50,102.99 L136.00,103.24 L136.50,103.46 L137.00,103.67 L137.50,103.85 L138.00,104.02 L138.50,104.17 L139.00,104.31 L139.50,104.44" stroke="#000" stroke-width="1.35"/>
</g>
<g clip-path="url(#cb)" fill="none" stroke-linejoin="round">
<path d="M384.00,37.20 C384.93,37.95 387.93,39.90 389.60,41.70 C391.27,43.50 392.60,45.87 394.00,48.00 C395.40,50.13 396.68,52.58 398.00,54.50 C399.32,56.42 399.93,57.10 401.90,59.50 C403.87,61.90 406.82,65.35 409.80,68.90 C412.78,72.45 417.10,77.87 419.80,80.80 C422.50,83.73 423.85,84.68 426.00,86.50 C428.15,88.32 431.58,90.83 432.70,91.70" stroke="#00ff00" stroke-width="1.3"/>
<path d="M238.50,109.00 L239.00,109.00 L239.50,109.00 L240.00,109.00 L240.50,109.00 L241.00,109.00 L241.50,109.00 L242.00,109.00 L242.50,109.00 L243.00,109.00 L243.50,109.00 L244.00,109.00 L244.50,109.00 L245.00,109.00 L245.50,109.00 L246.00,109.00 L246.50,109.00 L247.00,109.00 L247.50,109.00 L248.00,109.00 L248.50,109.00 L249.00,109.00 L249.50,109.00 L250.00,109.00 L250.50,109.00 L251.00,109.00 L251.50,109.00 L252.00,109.00 L252.50,109.00 L253.00,109.00 L253.50,109.00 L254.00,109.00 L254.50,109.00 L255.00,109.00 L255.50,109.00 L256.00,109.00 L256.50,109.00 L257.00,109.00 L257.50,109.00 L258.00,109.00 L258.50,109.00 L259.00,109.00 L259.50,109.00 L260.00,109.00 L260.50,109.00 L261.00,109.00 L261.50,109.00 L262.00,109.00 L262.50,109.00 L263.00,109.00 L263.50,109.00 L264.00,109.00 L264.50,109.00 L265.00,109.00 L265.50,109.00 L266.00,109.00 L266.50,109.00 L267.00,109.00 L267.50,109.00 L268.00,109.00 L268.50,109.00 L269.00,109.00 L269.50,109.00 L270.00,109.00 L270.50,109.00 L271.00,109.00 L271.50,109.00 L272.00,109.00 L272.50,109.00 L273.00,109.00 L273.50,109.00 L274.00,109.00 L274.50,109.00 L275.00,109.00 L275.50,109.00 L276.00,109.00 L276.50,109.00 L277.00,109.00 L277.50,109.00 L278.00,109.00 L278.50,109.00 L279.00,109.00 L279.50,109.00 L280.00,109.00 L280.50,109.00 L281.00,109.00 L281.50,109.00 L282.00,109.00 L282.50,109.00 L283.00,109.00 L283.50,109.00 L284.00,109.00 L284.50,109.00 L285.00,109.00 L285.50,109.00 L286.00,109.00 L286.50,109.00 L287.00,109.00 L287.50,109.00 L288.00,109.00 L288.50,109.00 L289.00,109.00 L289.50,109.00 L290.00,109.00 L290.50,109.00 L291.00,109.00 L291.50,109.00 L292.00,109.00 L292.50,109.00 L293.00,109.00 L293.50,109.00 L294.00,109.00 L294.50,109.00 L295.00,109.00 L295.50,109.00 L296.00,109.00 L296.50,109.00 L297.00,109.00 L297.50,109.00 L298.00,109.00 L298.50,109.00 L299.00,109.00 L299.50,109.00 L300.00,109.00 L300.50,109.00 L301.00,109.00 L301.50,109.00 L302.00,109.00 L302.50,109.00 L303.00,109.00 L303.50,109.00 L304.00,109.00 L304.50,109.00 L305.00,109.00 L305.50,109.00 L306.00,109.00 L306.50,109.00 L307.00,109.00 L307.50,109.00 L308.00,109.00 L308.50,109.00 L309.00,109.00 L309.50,109.00 L310.00,109.00 L310.50,109.00 L311.00,109.00 L311.50,109.00 L312.00,109.00 L312.50,109.00 L313.00,109.00 L313.50,109.00 L314.00,109.00 L314.50,109.00 L315.00,109.00 L315.50,109.00 L316.00,109.00 L316.50,109.00 L317.00,109.00 L317.50,108.99 L318.00,108.99 L318.50,108.99 L319.00,108.99 L319.50,108.99 L320.00,108.99 L320.50,108.99 L321.00,108.99 L321.50,108.99 L322.00,108.99 L322.50,108.99 L323.00,108.99 L323.50,108.99 L324.00,108.99 L324.50,108.99 L325.00,108.99 L325.50,108.99 L326.00,108.99 L326.50,108.99 L327.00,108.99 L327.50,108.99 L328.00,108.99 L328.50,108.99 L329.00,108.99 L329.50,108.99 L330.00,108.99 L330.50,108.98 L331.00,108.98 L331.50,108.98 L332.00,108.98 L332.50,108.98 L333.00,108.98 L333.50,108.98 L334.00,108.98 L334.50,108.98 L335.00,108.98 L335.50,108.98 L336.00,108.98 L336.50,108.97 L337.00,108.97 L337.50,108.97 L338.00,108.97 L338.50,108.97 L339.00,108.97 L339.50,108.97 L340.00,108.97 L340.50,108.96 L341.00,108.96 L341.50,108.96 L342.00,108.96 L342.50,108.96 L343.00,108.96 L343.50,108.95 L344.00,108.95 L344.50,108.95 L345.00,108.95 L345.50,108.95 L346.00,108.94 L346.50,108.94 L347.00,108.94 L347.50,108.94 L348.00,108.93 L348.50,108.93 L349.00,108.93 L349.50,108.92 L350.00,108.92 L350.50,108.92 L351.00,108.91 L351.50,108.91 L352.00,108.91 L352.50,108.90 L353.00,108.90 L353.50,108.89 L354.00,108.89 L354.50,108.88 L355.00,108.88 L355.50,108.87 L356.00,108.87 L356.50,108.86 L357.00,108.86 L357.50,108.85 L358.00,108.84 L358.50,108.84 L359.00,108.83 L359.50,108.82 L360.00,108.81 L360.50,108.81 L361.00,108.80 L361.50,108.79 L362.00,108.78 L362.50,108.77 L363.00,108.76 L363.50,108.75 L364.00,108.74 L364.50,108.73 L365.00,108.71 L365.50,108.70 L366.00,108.69 L366.50,108.68 L367.00,108.66 L367.50,108.65 L368.00,108.63 L368.50,108.62 L369.00,108.60 L369.50,108.58 L370.00,108.56 L370.50,108.54 L371.00,108.52 L371.50,108.50 L372.00,108.48 L372.50,108.46 L373.00,108.44 L373.50,108.41 L374.00,108.39 L374.50,108.36 L375.00,108.33 L375.50,108.30 L376.00,108.27 L376.50,108.24 L377.00,108.21 L377.50,108.17 L378.00,108.14 L378.50,108.10 L379.00,108.06 L379.50,108.02 L380.00,107.98 L380.50,107.93 L381.00,107.89 L381.50,107.84 L382.00,107.79 L382.50,107.73 L383.00,107.68 L383.50,107.62 L384.00,107.56 L384.50,107.50 L385.00,107.44 L385.50,107.37 L386.00,107.30 L386.50,107.22 L387.00,107.15 L387.50,107.06 L388.00,106.98 L388.50,106.89 L389.00,106.80 L389.50,106.71 L390.00,106.61 L390.50,106.50 L391.00,106.39 L391.50,106.28 L392.00,106.16 L392.50,106.04 L393.00,105.91 L393.50,105.78 L394.00,105.64 L394.50,105.49 L395.00,105.34 L395.50,105.18 L396.00,105.01 L396.50,104.84 L397.00,104.66 L397.50,104.47 L398.00,104.28 L398.50,104.07 L399.00,103.86 L399.50,103.63 L400.00,103.40 L400.50,103.16 L401.00,102.90 L401.50,102.64 L402.00,102.36 L402.50,102.08 L403.00,101.77 L403.50,101.46 L404.00,101.13 L404.50,100.79 L405.00,100.44 L405.50,100.06 L406.00,99.68 L406.50,99.27 L407.00,98.85 L407.50,98.41 L408.00,97.95 L408.50,97.47 L409.00,96.97 L409.50,96.44 L410.00,95.90 L410.50,95.33 L411.00,94.74 L411.50,94.12 L412.00,93.47 L412.50,92.80 L413.00,92.09 L413.50,91.36 L414.00,90.59 L414.50,89.80 L415.00,88.96 L415.50,88.09 L416.00,87.18 L416.50,86.24 L417.00,85.25 L417.50,84.22 L418.00,83.14 L418.50,82.02 L419.00,80.85 L419.50,79.63 L420.00,78.35 L420.50,77.02 L421.00,75.63 L421.50,74.18 L422.00,72.67 L422.50,71.09 L423.00,69.45 L423.50,67.73 L424.00,65.94 L424.50,64.07 L425.00,62.12 L425.50,60.08 L426.00,57.96 L426.50,55.74 L427.00,53.43 L427.50,51.02 L428.00,48.50 L428.50,45.87 L429.00,43.13 L429.50,40.27 L430.00,37.29 L430.50,34.18 L431.00,30.93 L431.50,27.54 L432.00,24.00 L432.50,20.31 L433.00,16.46 L433.50,12.44" stroke="#ff0000" stroke-width="1.3"/>
<path d="M238.50,108.70 C240.40,108.55 246.02,108.32 249.90,107.80 C253.78,107.28 257.83,106.62 261.80,105.60 C265.77,104.58 269.73,103.48 273.70,101.70 C277.67,99.92 282.38,96.93 285.60,94.90 C288.82,92.87 290.28,91.70 293.00,89.50 C295.72,87.30 299.10,84.65 301.90,81.70 C304.70,78.75 306.82,75.60 309.80,71.80 C312.78,68.00 316.98,62.50 319.80,58.90 C322.62,55.30 324.07,53.15 326.70,50.20 C329.33,47.25 333.05,43.98 335.60,41.20 C338.15,38.42 339.62,35.83 342.00,33.50 C344.38,31.17 346.92,28.75 349.90,27.20 C352.88,25.65 356.92,24.50 359.90,24.20 C362.88,23.90 365.17,24.47 367.80,25.40 C370.43,26.33 373.05,27.92 375.70,29.80 C378.35,31.68 381.05,34.25 383.70,36.70 C386.35,39.15 389.22,41.87 391.60,44.50 C393.98,47.13 395.93,50.52 398.00,52.50 C400.07,54.48 402.05,55.38 404.00,56.40 C405.95,57.42 407.92,58.35 409.70,58.60 C411.48,58.85 413.27,58.62 414.70,57.90 C416.13,57.18 417.10,56.10 418.30,54.30 C419.50,52.50 420.83,49.48 421.90,47.10 C422.97,44.72 423.87,42.37 424.70,40.00 C425.53,37.63 426.10,36.23 426.90,32.90 C427.70,29.57 428.72,24.15 429.50,20.00 C430.28,15.85 431.02,11.67 431.60,8.00 C432.18,4.33 432.77,-0.33 433.00,-2.00" stroke="#800000" stroke-width="1.8"/>
</g>
<g fill="#0000ff" clip-path="url(#cb)">
<circle cx="291.2" cy="63.4" r="1.85"/>
<circle cx="286.2" cy="69.5" r="1.85"/>
<circle cx="288.0" cy="73.5" r="1.85"/>
<circle cx="289.6" cy="77.9" r="1.85"/>
<circle cx="290.6" cy="82.8" r="1.85"/>
<circle cx="284.6" cy="86.8" r="1.85"/>
<circle cx="283.2" cy="88.8" r="1.85"/>
<circle cx="284.2" cy="90.8" r="1.85"/>
<circle cx="292.6" cy="87.8" r="1.85"/>
<circle cx="252.9" cy="91.2" r="1.85"/>
<circle cx="271.3" cy="91.2" r="1.85"/>
<circle cx="274.1" cy="91.2" r="1.85"/>
<circle cx="278.7" cy="91.7" r="1.85"/>
<circle cx="280.7" cy="94.7" r="1.85"/>
<circle cx="264.8" cy="95.7" r="1.85"/>
<circle cx="269.7" cy="95.7" r="1.85"/>
<circle cx="276.7" cy="96.7" r="1.85"/>
<circle cx="291.6" cy="95.7" r="1.85"/>
<circle cx="260.8" cy="99.3" r="1.85"/>
<circle cx="263.8" cy="100.7" r="1.85"/>
<circle cx="269.7" cy="99.7" r="1.85"/>
<circle cx="267.8" cy="102.7" r="1.85"/>
<circle cx="272.7" cy="102.1" r="1.85"/>
<circle cx="280.7" cy="100.7" r="1.85"/>
<circle cx="285.6" cy="98.7" r="1.85"/>
<circle cx="250.9" cy="104.0" r="1.85"/>
<circle cx="259.8" cy="104.6" r="1.85"/>
<circle cx="263.8" cy="103.7" r="1.85"/>
<circle cx="275.7" cy="104.0" r="1.85"/>
<circle cx="292.6" cy="102.7" r="1.85"/>
<circle cx="242.0" cy="107.6" r="1.85"/>
<circle cx="246.9" cy="107.6" r="1.85"/>
<circle cx="258.8" cy="107.6" r="1.85"/>
<circle cx="263.8" cy="107.6" r="1.85"/>
<circle cx="267.8" cy="107.2" r="1.85"/>
<circle cx="281.7" cy="107.2" r="1.85"/>
<circle cx="288.6" cy="107.6" r="1.85"/>
<circle cx="293.6" cy="106.6" r="1.85"/>
<circle cx="324.1" cy="7.9" r="1.85"/>
<circle cx="338.6" cy="15.9" r="1.85"/>
<circle cx="341.2" cy="15.5" r="1.85"/>
<circle cx="334.6" cy="20.8" r="1.85"/>
<circle cx="337.0" cy="20.4" r="1.85"/>
<circle cx="344.6" cy="20.4" r="1.85"/>
<circle cx="330.3" cy="25.4" r="1.85"/>
<circle cx="343.6" cy="24.8" r="1.85"/>
<circle cx="311.8" cy="34.7" r="1.85"/>
<circle cx="315.8" cy="34.7" r="1.85"/>
<circle cx="327.3" cy="34.7" r="1.85"/>
<circle cx="342.6" cy="34.1" r="1.85"/>
<circle cx="339.6" cy="37.7" r="1.85"/>
<circle cx="320.8" cy="43.3" r="1.85"/>
<circle cx="327.7" cy="42.7" r="1.85"/>
<circle cx="329.7" cy="42.7" r="1.85"/>
<circle cx="331.7" cy="47.2" r="1.85"/>
<circle cx="335.6" cy="46.6" r="1.85"/>
<circle cx="345.6" cy="11.9" r="1.85"/>
<circle cx="311.4" cy="51.6" r="1.85"/>
<circle cx="309.2" cy="55.9" r="1.85"/>
<circle cx="316.8" cy="55.5" r="1.85"/>
<circle cx="325.7" cy="55.3" r="1.85"/>
<circle cx="323.7" cy="56.9" r="1.85"/>
<circle cx="333.7" cy="52.0" r="1.85"/>
<circle cx="337.6" cy="55.9" r="1.85"/>
<circle cx="341.6" cy="54.9" r="1.85"/>
<circle cx="344.6" cy="52.0" r="1.85"/>
<circle cx="304.9" cy="64.8" r="1.85"/>
<circle cx="319.8" cy="64.8" r="1.85"/>
<circle cx="322.7" cy="64.8" r="1.85"/>
<circle cx="325.7" cy="67.8" r="1.85"/>
<circle cx="317.8" cy="69.2" r="1.85"/>
<circle cx="302.9" cy="69.4" r="1.85"/>
<circle cx="301.9" cy="73.4" r="1.85"/>
<circle cx="304.3" cy="73.4" r="1.85"/>
<circle cx="300.9" cy="77.7" r="1.85"/>
<circle cx="307.9" cy="77.7" r="1.85"/>
<circle cx="313.8" cy="77.7" r="1.85"/>
<circle cx="312.8" cy="82.7" r="1.85"/>
<circle cx="315.4" cy="82.3" r="1.85"/>
<circle cx="321.3" cy="82.3" r="1.85"/>
<circle cx="319.8" cy="84.7" r="1.85"/>
<circle cx="296.9" cy="82.1" r="1.85"/>
<circle cx="298.9" cy="84.7" r="1.85"/>
<circle cx="306.3" cy="86.7" r="1.85"/>
<circle cx="295.0" cy="87.7" r="1.85"/>
<circle cx="292.0" cy="90.0" r="1.85"/>
<circle cx="306.9" cy="90.6" r="1.85"/>
<circle cx="338.6" cy="91.6" r="1.85"/>
<circle cx="310.7" cy="96.0" r="1.85"/>
<circle cx="300.0" cy="98.6" r="1.85"/>
<circle cx="371.4" cy="2.4" r="1.85"/>
<circle cx="379.3" cy="7.5" r="1.85"/>
<circle cx="347.6" cy="12.9" r="1.85"/>
<circle cx="356.9" cy="11.5" r="1.85"/>
<circle cx="368.8" cy="12.3" r="1.85"/>
<circle cx="373.3" cy="12.3" r="1.85"/>
<circle cx="388.0" cy="12.5" r="1.85"/>
<circle cx="350.9" cy="16.3" r="1.85"/>
<circle cx="351.9" cy="20.4" r="1.85"/>
<circle cx="378.7" cy="20.4" r="1.85"/>
<circle cx="383.3" cy="19.8" r="1.85"/>
<circle cx="394.0" cy="20.8" r="1.85"/>
<circle cx="349.5" cy="24.8" r="1.85"/>
<circle cx="360.8" cy="23.4" r="1.85"/>
<circle cx="366.8" cy="23.8" r="1.85"/>
<circle cx="380.7" cy="25.4" r="1.85"/>
<circle cx="353.9" cy="28.8" r="1.85"/>
<circle cx="358.9" cy="29.8" r="1.85"/>
<circle cx="373.7" cy="28.8" r="1.85"/>
<circle cx="352.9" cy="32.7" r="1.85"/>
<circle cx="355.9" cy="33.7" r="1.85"/>
<circle cx="359.5" cy="34.1" r="1.85"/>
<circle cx="364.2" cy="33.7" r="1.85"/>
<circle cx="372.8" cy="33.3" r="1.85"/>
<circle cx="375.7" cy="32.7" r="1.85"/>
<circle cx="387.6" cy="36.7" r="1.85"/>
<circle cx="389.6" cy="36.7" r="1.85"/>
<circle cx="393.6" cy="37.7" r="1.85"/>
<circle cx="348.0" cy="38.7" r="1.85"/>
<circle cx="377.7" cy="38.1" r="1.85"/>
<circle cx="369.8" cy="40.7" r="1.85"/>
<circle cx="380.1" cy="42.1" r="1.85"/>
<circle cx="382.7" cy="42.1" r="1.85"/>
<circle cx="371.8" cy="43.3" r="1.85"/>
<circle cx="389.6" cy="41.7" r="1.85"/>
<circle cx="396.6" cy="40.7" r="1.85"/>
<circle cx="362.8" cy="47.2" r="1.85"/>
<circle cx="395.6" cy="46.6" r="1.85"/>
<circle cx="364.8" cy="51.5" r="1.85"/>
<circle cx="348.9" cy="54.9" r="1.85"/>
<circle cx="363.4" cy="55.5" r="1.85"/>
<circle cx="370.8" cy="54.9" r="1.85"/>
<circle cx="381.7" cy="54.9" r="1.85"/>
<circle cx="383.7" cy="52.9" r="1.85"/>
<circle cx="385.7" cy="54.9" r="1.85"/>
<circle cx="390.6" cy="50.3" r="1.85"/>
<circle cx="392.6" cy="59.2" r="1.85"/>
<circle cx="387.2" cy="64.2" r="1.85"/>
<circle cx="396.0" cy="65.4" r="1.85"/>
<circle cx="354.3" cy="69.2" r="1.85"/>
<circle cx="376.7" cy="72.7" r="1.85"/>
<circle cx="394.6" cy="69.8" r="1.85"/>
<circle cx="359.9" cy="76.1" r="1.85"/>
<circle cx="427.7" cy="7.1" r="1.85"/>
<circle cx="429.2" cy="11.9" r="1.85"/>
<circle cx="430.8" cy="9.8" r="1.85"/>
<circle cx="411.5" cy="20.6" r="1.85"/>
<circle cx="421.8" cy="20.6" r="1.85"/>
<circle cx="412.3" cy="25.7" r="1.85"/>
<circle cx="425.7" cy="25.4" r="1.85"/>
<circle cx="430.5" cy="19.8" r="1.85"/>
<circle cx="400.3" cy="30.2" r="1.85"/>
<circle cx="419.4" cy="33.3" r="1.85"/>
<circle cx="397.5" cy="37.8" r="1.85"/>
<circle cx="404.8" cy="38.4" r="1.85"/>
<circle cx="407.5" cy="38.1" r="1.85"/>
<circle cx="409.7" cy="43.6" r="1.85"/>
<circle cx="416.1" cy="41.4" r="1.85"/>
<circle cx="424.0" cy="42.9" r="1.85"/>
<circle cx="404.0" cy="47.9" r="1.85"/>
<circle cx="422.6" cy="47.1" r="1.85"/>
<circle cx="426.1" cy="47.9" r="1.85"/>
<circle cx="408.3" cy="51.4" r="1.85"/>
<circle cx="410.4" cy="51.4" r="1.85"/>
<circle cx="412.6" cy="51.4" r="1.85"/>
<circle cx="406.9" cy="55.0" r="1.85"/>
<circle cx="409.0" cy="55.4" r="1.85"/>
<circle cx="414.7" cy="55.7" r="1.85"/>
<circle cx="414.0" cy="60.7" r="1.85"/>
<circle cx="416.9" cy="60.0" r="1.85"/>
<circle cx="419.7" cy="60.7" r="1.85"/>
<circle cx="418.3" cy="64.3" r="1.85"/>
<circle cx="421.1" cy="64.3" r="1.85"/>
<circle cx="431.1" cy="41.4" r="1.85"/>
<circle cx="398.8" cy="41.6" r="1.85"/>
<circle cx="401.1" cy="41.6" r="1.85"/>
<circle cx="401.1" cy="47.1" r="1.85"/>
<circle cx="424.2" cy="73.3" r="1.85"/>
<circle cx="403.9" cy="64.4" r="1.85"/>
<circle cx="427.7" cy="67.0" r="1.85"/>
<circle cx="405.9" cy="81.4" r="1.85"/>
</g>
<g clip-path="url(#cc)" fill="none" stroke-linejoin="round">
<path d="M109.20,262.00 L109.45,262.00 L109.70,262.00 L109.95,262.00 L110.20,261.99 L110.45,261.99 L110.70,261.99 L110.95,261.99 L111.20,261.99 L111.45,261.98 L111.70,261.98 L111.95,261.98 L112.20,261.97 L112.45,261.96 L112.70,261.95 L112.95,261.94 L113.20,261.93 L113.45,261.92 L113.70,261.90 L113.95,261.89 L114.20,261.86 L114.45,261.84 L114.70,261.81 L114.95,261.77 L115.20,261.74 L115.45,261.69 L115.70,261.64 L115.95,261.59 L116.20,261.52 L116.45,261.45 L116.70,261.37 L116.95,261.28 L117.20,261.19 L117.45,261.08 L117.70,260.97 L117.95,260.84 L118.20,260.70 L118.45,260.56 L118.70,260.40 L118.95,260.23 L119.20,260.05 L119.45,259.86 L119.70,259.67 L119.95,259.46 L120.20,259.25 L120.45,259.04 L120.70,258.81 L120.95,258.59 L121.20,258.36 L121.45,258.13 L121.70,257.91 L121.95,257.69 L122.20,257.47 L122.45,257.26 L122.70,257.06 L122.95,256.88 L123.20,256.71 L123.45,256.55 L123.70,256.41 L123.95,256.29 L124.20,256.18 L124.45,256.10 L124.70,256.05 L124.95,256.01 L125.20,256.00 L125.45,256.01 L125.70,256.05 L125.95,256.10 L126.20,256.18 L126.45,256.29 L126.70,256.41 L126.95,256.55 L127.20,256.71 L127.45,256.88 L127.70,257.06 L127.95,257.26 L128.20,257.47 L128.45,257.69 L128.70,257.91 L128.95,258.13 L129.20,258.36 L129.45,258.59 L129.70,258.81 L129.95,259.04 L130.20,259.25 L130.45,259.46 L130.70,259.67 L130.95,259.86 L131.20,260.05 L131.45,260.23 L131.70,260.40 L131.95,260.56 L132.20,260.70 L132.45,260.84 L132.70,260.97 L132.95,261.08 L133.20,261.19 L133.45,261.28 L133.70,261.37 L133.95,261.45 L134.20,261.52 L134.45,261.59 L134.70,261.64 L134.95,261.69 L135.20,261.74 L135.45,261.77 L135.70,261.81 L135.95,261.84 L136.20,261.86 L136.45,261.89 L136.70,261.90 L136.95,261.92 L137.20,261.93 L137.45,261.94 L137.70,261.95 L137.95,261.96 L138.20,261.97 L138.45,261.98 L138.70,261.98 L138.95,261.98 L139.20,261.99 L139.45,261.99 L139.70,261.99 L139.95,261.99 L140.20,261.99 L140.45,262.00 L140.70,262.00 L140.95,262.00 L141.20,262.00" stroke="#00ff00" stroke-width="1.2"/>
<path d="M114.60,261.98 L114.85,261.98 L115.10,261.97 L115.35,261.97 L115.60,261.96 L115.85,261.95 L116.10,261.94 L116.35,261.93 L116.60,261.92 L116.85,261.90 L117.10,261.88 L117.35,261.85 L117.60,261.82 L117.85,261.79 L118.10,261.74 L118.35,261.69 L118.60,261.64 L118.85,261.57 L119.10,261.49 L119.35,261.40 L119.60,261.30 L119.85,261.18 L120.10,261.05 L120.35,260.89 L120.60,260.71 L120.85,260.51 L121.10,260.28 L121.35,260.03 L121.60,259.74 L121.85,259.42 L122.10,259.06 L122.35,258.66 L122.60,258.22 L122.85,257.73 L123.10,257.19 L123.35,256.61 L123.60,255.96 L123.85,255.26 L124.10,254.51 L124.35,253.69 L124.60,252.81 L124.85,251.86 L125.10,250.86 L125.35,249.78 L125.60,248.65 L125.85,247.45 L126.10,246.19 L126.35,244.87 L126.60,243.50 L126.85,242.08 L127.10,240.61 L127.35,239.09 L127.60,237.55 L127.85,235.98 L128.10,234.39 L128.35,232.78 L128.60,231.18 L128.85,229.58 L129.10,228.00 L129.35,226.45 L129.60,224.94 L129.85,223.48 L130.10,222.08 L130.35,220.75 L130.60,219.50 L130.85,218.34 L131.10,217.28 L131.35,216.33 L131.60,215.50 L131.85,214.80 L132.10,214.22 L132.35,213.78 L132.60,213.48 L132.85,213.33 L133.10,213.31 L133.35,213.44 L133.60,213.71 L133.85,214.12 L134.10,214.67 L134.35,215.35 L134.60,216.16 L134.85,217.08 L135.10,218.12 L135.35,219.26 L135.60,220.49 L135.85,221.80 L136.10,223.19 L136.35,224.64 L136.60,226.15 L136.85,227.69 L137.10,229.26 L137.35,230.86 L137.60,232.46 L137.85,234.07 L138.10,235.66 L138.35,237.24 L138.60,238.79 L138.85,240.31 L139.10,241.78 L139.35,243.22 L139.60,244.60 L139.85,245.93 L140.10,247.20 L140.35,248.41 L140.60,249.56 L140.85,250.65 L141.10,251.67 L141.35,252.62 L141.60,253.52 L141.85,254.35 L142.10,255.12 L142.35,255.83 L142.60,256.48 L142.85,257.08 L143.10,257.63 L143.35,258.13 L143.60,258.58 L143.85,258.98 L144.10,259.35 L144.35,259.68 L144.60,259.97 L144.85,260.24 L145.10,260.47 L145.35,260.67 L145.60,260.86 L145.85,261.02 L146.10,261.16 L146.35,261.28 L146.60,261.38 L146.85,261.48 L147.10,261.56 L147.35,261.62 L147.60,261.68 L147.85,261.73 L148.10,261.78 L148.35,261.81 L148.60,261.85 L148.85,261.87 L149.10,261.89 L149.35,261.91 L149.60,261.93 L149.85,261.94 L150.10,261.95 L150.35,261.96 L150.60,261.97 L150.85,261.97 L151.10,261.98 L151.35,261.98" stroke="#00ff00" stroke-width="1.2"/>
<path d="M123.80,261.99 L124.05,261.99 L124.30,261.99 L124.55,261.99 L124.80,261.98 L125.05,261.98 L125.30,261.97 L125.55,261.97 L125.80,261.96 L126.05,261.95 L126.30,261.94 L126.55,261.93 L126.80,261.91 L127.05,261.89 L127.30,261.87 L127.55,261.84 L127.80,261.81 L128.05,261.77 L128.30,261.73 L128.55,261.68 L128.80,261.62 L129.05,261.56 L129.30,261.48 L129.55,261.39 L129.80,261.29 L130.05,261.18 L130.30,261.05 L130.55,260.90 L130.80,260.74 L131.05,260.56 L131.30,260.35 L131.55,260.12 L131.80,259.87 L132.05,259.59 L132.30,259.29 L132.55,258.95 L132.80,258.59 L133.05,258.20 L133.30,257.77 L133.55,257.32 L133.80,256.83 L134.05,256.31 L134.30,255.76 L134.55,255.18 L134.80,254.57 L135.05,253.94 L135.30,253.28 L135.55,252.59 L135.80,251.89 L136.05,251.17 L136.30,250.44 L136.55,249.71 L136.80,248.97 L137.05,248.23 L137.30,247.50 L137.55,246.78 L137.80,246.08 L138.05,245.40 L138.30,244.76 L138.55,244.15 L138.80,243.58 L139.05,243.05 L139.30,242.58 L139.55,242.16 L139.80,241.80 L140.05,241.51 L140.30,241.28 L140.55,241.11 L140.80,241.02 L141.05,241.00 L141.30,241.05 L141.55,241.17 L141.80,241.36 L142.05,241.62 L142.30,241.94 L142.55,242.32 L142.80,242.76 L143.05,243.26 L143.30,243.80 L143.55,244.39 L143.80,245.01 L144.05,245.67 L144.30,246.36 L144.55,247.06 L144.80,247.79 L145.05,248.52 L145.30,249.26 L145.55,250.00 L145.80,250.74 L146.05,251.46 L146.30,252.18 L146.55,252.87 L146.80,253.54 L147.05,254.20 L147.30,254.82 L147.55,255.42 L147.80,255.99 L148.05,256.52 L148.30,257.03 L148.55,257.50 L148.80,257.95 L149.05,258.36 L149.30,258.74 L149.55,259.09 L149.80,259.41 L150.05,259.71 L150.30,259.97 L150.55,260.22 L150.80,260.44 L151.05,260.63 L151.30,260.81 L151.55,260.96 L151.80,261.10 L152.05,261.23 L152.30,261.34 L152.55,261.43 L152.80,261.51 L153.05,261.59 L153.30,261.65 L153.55,261.70 L153.80,261.75 L154.05,261.79 L154.30,261.82 L154.55,261.85 L154.80,261.88 L155.05,261.90 L155.30,261.92 L155.55,261.93 L155.80,261.94 L156.05,261.95 L156.30,261.96 L156.55,261.97 L156.80,261.98 L157.05,261.98 L157.30,261.98 L157.55,261.99 L157.80,261.99 L158.05,261.99" stroke="#00ff00" stroke-width="1.2"/>
<path d="M131.30,261.97 L131.55,261.97 L131.80,261.96 L132.05,261.95 L132.30,261.94 L132.55,261.93 L132.80,261.91 L133.05,261.89 L133.30,261.87 L133.55,261.84 L133.80,261.80 L134.05,261.76 L134.30,261.71 L134.55,261.65 L134.80,261.58 L135.05,261.50 L135.30,261.41 L135.55,261.30 L135.80,261.17 L136.05,261.02 L136.30,260.84 L136.55,260.65 L136.80,260.42 L137.05,260.16 L137.30,259.86 L137.55,259.52 L137.80,259.14 L138.05,258.70 L138.30,258.22 L138.55,257.68 L138.80,257.07 L139.05,256.40 L139.30,255.65 L139.55,254.83 L139.80,253.92 L140.05,252.93 L140.30,251.85 L140.55,250.67 L140.80,249.40 L141.05,248.03 L141.30,246.56 L141.55,244.98 L141.80,243.30 L142.05,241.52 L142.30,239.63 L142.55,237.65 L142.80,235.58 L143.05,233.41 L143.30,231.17 L143.55,228.85 L143.80,226.46 L144.05,224.02 L144.30,221.54 L144.55,219.03 L144.80,216.51 L145.05,213.99 L145.30,211.48 L145.55,209.00 L145.80,206.58 L146.05,204.22 L146.30,201.94 L146.55,199.77 L146.80,197.73 L147.05,195.81 L147.30,194.05 L147.55,192.46 L147.80,191.05 L148.05,189.84 L148.30,188.83 L148.55,188.03 L148.80,187.46 L149.05,187.12 L149.30,187.00 L149.55,187.12 L149.80,187.46 L150.05,188.03 L150.30,188.83 L150.55,189.84 L150.80,191.05 L151.05,192.46 L151.30,194.05 L151.55,195.81 L151.80,197.73 L152.05,199.77 L152.30,201.94 L152.55,204.22 L152.80,206.58 L153.05,209.00 L153.30,211.48 L153.55,213.99 L153.80,216.51 L154.05,219.03 L154.30,221.54 L154.55,224.02 L154.80,226.46 L155.05,228.85 L155.30,231.17 L155.55,233.41 L155.80,235.58 L156.05,237.65 L156.30,239.63 L156.55,241.52 L156.80,243.30 L157.05,244.98 L157.30,246.56 L157.55,248.03 L157.80,249.40 L158.05,250.67 L158.30,251.85 L158.55,252.93 L158.80,253.92 L159.05,254.83 L159.30,255.65 L159.55,256.40 L159.80,257.07 L160.05,257.68 L160.30,258.22 L160.55,258.70 L160.80,259.14 L161.05,259.52 L161.30,259.86 L161.55,260.16 L161.80,260.42 L162.05,260.65 L162.30,260.84 L162.55,261.02 L162.80,261.17 L163.05,261.30 L163.30,261.41 L163.55,261.50 L163.80,261.58 L164.05,261.65 L164.30,261.71 L164.55,261.76 L164.80,261.80 L165.05,261.84 L165.30,261.87 L165.55,261.89 L165.80,261.91 L166.05,261.93 L166.30,261.94 L166.55,261.95 L166.80,261.96 L167.05,261.97 L167.30,261.97" stroke="#00ff00" stroke-width="1.2"/>
<path d="M138.90,261.99 L139.15,261.99 L139.40,261.98 L139.65,261.98 L139.90,261.97 L140.15,261.97 L140.40,261.96 L140.65,261.95 L140.90,261.94 L141.15,261.93 L141.40,261.91 L141.65,261.90 L141.90,261.87 L142.15,261.85 L142.40,261.82 L142.65,261.79 L142.90,261.75 L143.15,261.70 L143.40,261.65 L143.65,261.58 L143.90,261.51 L144.15,261.43 L144.40,261.33 L144.65,261.22 L144.90,261.10 L145.15,260.96 L145.40,260.80 L145.65,260.62 L145.90,260.42 L146.15,260.20 L146.40,259.95 L146.65,259.67 L146.90,259.36 L147.15,259.02 L147.40,258.65 L147.65,258.23 L147.90,257.79 L148.15,257.30 L148.40,256.77 L148.65,256.20 L148.90,255.58 L149.15,254.92 L149.40,254.22 L149.65,253.47 L149.90,252.68 L150.15,251.84 L150.40,250.96 L150.65,250.04 L150.90,249.08 L151.15,248.09 L151.40,247.06 L151.65,246.01 L151.90,244.93 L152.15,243.83 L152.40,242.72 L152.65,241.60 L152.90,240.48 L153.15,239.37 L153.40,238.26 L153.65,237.18 L153.90,236.13 L154.15,235.11 L154.40,234.13 L154.65,233.20 L154.90,232.33 L155.15,231.52 L155.40,230.78 L155.65,230.12 L155.90,229.54 L156.15,229.05 L156.40,228.64 L156.65,228.34 L156.90,228.13 L157.15,228.02 L157.40,228.01 L157.65,228.10 L157.90,228.29 L158.15,228.58 L158.40,228.96 L158.65,229.43 L158.90,230.00 L159.15,230.64 L159.40,231.36 L159.65,232.16 L159.90,233.02 L160.15,233.94 L160.40,234.91 L160.65,235.92 L160.90,236.97 L161.15,238.05 L161.40,239.15 L161.65,240.26 L161.90,241.38 L162.15,242.50 L162.40,243.61 L162.65,244.71 L162.90,245.79 L163.15,246.85 L163.40,247.89 L163.65,248.89 L163.90,249.85 L164.15,250.78 L164.40,251.67 L164.65,252.51 L164.90,253.32 L165.15,254.07 L165.40,254.79 L165.65,255.45 L165.90,256.08 L166.15,256.66 L166.40,257.20 L166.65,257.69 L166.90,258.15 L167.15,258.57 L167.40,258.95 L167.65,259.29 L167.90,259.61 L168.15,259.89 L168.40,260.15 L168.65,260.38 L168.90,260.59 L169.15,260.77 L169.40,260.93 L169.65,261.07 L169.90,261.20 L170.15,261.31 L170.40,261.41 L170.65,261.50 L170.90,261.57 L171.15,261.63 L171.40,261.69 L171.65,261.74 L171.90,261.78 L172.15,261.81 L172.40,261.84 L172.65,261.87 L172.90,261.89 L173.15,261.91 L173.40,261.93 L173.65,261.94 L173.90,261.95 L174.15,261.96 L174.40,261.97 L174.65,261.97 L174.90,261.98 L175.15,261.98 L175.40,261.99 L175.65,261.99" stroke="#00ff00" stroke-width="1.2"/>
<path d="M147.20,261.97 L147.45,261.97 L147.70,261.96 L147.95,261.95 L148.20,261.94 L148.45,261.93 L148.70,261.91 L148.95,261.89 L149.20,261.87 L149.45,261.84 L149.70,261.80 L149.95,261.76 L150.20,261.71 L150.45,261.65 L150.70,261.58 L150.95,261.50 L151.20,261.41 L151.45,261.30 L151.70,261.17 L151.95,261.02 L152.20,260.84 L152.45,260.65 L152.70,260.42 L152.95,260.16 L153.20,259.86 L153.45,259.52 L153.70,259.14 L153.95,258.70 L154.20,258.22 L154.45,257.68 L154.70,257.07 L154.95,256.40 L155.20,255.65 L155.45,254.83 L155.70,253.92 L155.95,252.93 L156.20,251.85 L156.45,250.67 L156.70,249.40 L156.95,248.03 L157.20,246.56 L157.45,244.98 L157.70,243.30 L157.95,241.52 L158.20,239.63 L158.45,237.65 L158.70,235.58 L158.95,233.41 L159.20,231.17 L159.45,228.85 L159.70,226.46 L159.95,224.02 L160.20,221.54 L160.45,219.03 L160.70,216.51 L160.95,213.99 L161.20,211.48 L161.45,209.00 L161.70,206.58 L161.95,204.22 L162.20,201.94 L162.45,199.77 L162.70,197.73 L162.95,195.81 L163.20,194.05 L163.45,192.46 L163.70,191.05 L163.95,189.84 L164.20,188.83 L164.45,188.03 L164.70,187.46 L164.95,187.12 L165.20,187.00 L165.45,187.12 L165.70,187.46 L165.95,188.03 L166.20,188.83 L166.45,189.84 L166.70,191.05 L166.95,192.46 L167.20,194.05 L167.45,195.81 L167.70,197.73 L167.95,199.77 L168.20,201.94 L168.45,204.22 L168.70,206.58 L168.95,209.00 L169.20,211.48 L169.45,213.99 L169.70,216.51 L169.95,219.03 L170.20,221.54 L170.45,224.02 L170.70,226.46 L170.95,228.85 L171.20,231.17 L171.45,233.41 L171.70,235.58 L171.95,237.65 L172.20,239.63 L172.45,241.52 L172.70,243.30 L172.95,244.98 L173.20,246.56 L173.45,248.03 L173.70,249.40 L173.95,250.67 L174.20,251.85 L174.45,252.93 L174.70,253.92 L174.95,254.83 L175.20,255.65 L175.45,256.40 L175.70,257.07 L175.95,257.68 L176.20,258.22 L176.45,258.70 L176.70,259.14 L176.95,259.52 L177.20,259.86 L177.45,260.16 L177.70,260.42 L177.95,260.65 L178.20,260.84 L178.45,261.02 L178.70,261.17 L178.95,261.30 L179.20,261.41 L179.45,261.50 L179.70,261.58 L179.95,261.65 L180.20,261.71 L180.45,261.76 L180.70,261.80 L180.95,261.84 L181.20,261.87 L181.45,261.89 L181.70,261.91 L181.95,261.93 L182.20,261.94 L182.45,261.95 L182.70,261.96 L182.95,261.97 L183.20,261.97" stroke="#00ff00" stroke-width="1.2"/>
<path d="M156.40,261.99 L156.65,261.98 L156.90,261.98 L157.15,261.97 L157.40,261.97 L157.65,261.96 L157.90,261.95 L158.15,261.93 L158.40,261.92 L158.65,261.90 L158.90,261.88 L159.15,261.85 L159.40,261.82 L159.65,261.78 L159.90,261.74 L160.15,261.68 L160.40,261.62 L160.65,261.55 L160.90,261.46 L161.15,261.36 L161.40,261.25 L161.65,261.12 L161.90,260.96 L162.15,260.79 L162.40,260.59 L162.65,260.36 L162.90,260.10 L163.15,259.81 L163.40,259.48 L163.65,259.11 L163.90,258.70 L164.15,258.25 L164.40,257.74 L164.65,257.19 L164.90,256.58 L165.15,255.91 L165.40,255.18 L165.65,254.40 L165.90,253.55 L166.15,252.64 L166.40,251.66 L166.65,250.62 L166.90,249.52 L167.15,248.36 L167.40,247.15 L167.65,245.88 L167.90,244.55 L168.15,243.19 L168.40,241.78 L168.65,240.35 L168.90,238.89 L169.15,237.41 L169.40,235.93 L169.65,234.46 L169.90,232.99 L170.15,231.56 L170.40,230.16 L170.65,228.81 L170.90,227.51 L171.15,226.29 L171.40,225.15 L171.65,224.10 L171.90,223.16 L172.15,222.32 L172.40,221.60 L172.65,221.01 L172.90,220.55 L173.15,220.23 L173.40,220.05 L173.65,220.00 L173.90,220.10 L174.15,220.34 L174.40,220.72 L174.65,221.23 L174.90,221.88 L175.15,222.64 L175.40,223.52 L175.65,224.51 L175.90,225.60 L176.15,226.77 L176.40,228.02 L176.65,229.34 L176.90,230.71 L177.15,232.13 L177.40,233.58 L177.65,235.05 L177.90,236.53 L178.15,238.01 L178.40,239.47 L178.65,240.93 L178.90,242.35 L179.15,243.74 L179.40,245.09 L179.65,246.39 L179.90,247.64 L180.15,248.84 L180.40,249.97 L180.65,251.05 L180.90,252.06 L181.15,253.01 L181.40,253.90 L181.65,254.72 L181.90,255.48 L182.15,256.18 L182.40,256.83 L182.65,257.41 L182.90,257.95 L183.15,258.43 L183.40,258.87 L183.65,259.26 L183.90,259.62 L184.15,259.93 L184.40,260.21 L184.65,260.45 L184.90,260.67 L185.15,260.86 L185.40,261.03 L185.65,261.17 L185.90,261.30 L186.15,261.41 L186.40,261.50 L186.65,261.58 L186.90,261.65 L187.15,261.71 L187.40,261.76 L187.65,261.80 L187.90,261.83 L188.15,261.86 L188.40,261.89 L188.65,261.91 L188.90,261.93 L189.15,261.94 L189.40,261.95 L189.65,261.96 L189.90,261.97 L190.15,261.97 L190.40,261.98 L190.65,261.98" stroke="#00ff00" stroke-width="1.2"/>
<path d="M165.60,261.98 L165.85,261.98 L166.10,261.97 L166.35,261.96 L166.60,261.95 L166.85,261.94 L167.10,261.92 L167.35,261.90 L167.60,261.87 L167.85,261.84 L168.10,261.81 L168.35,261.76 L168.60,261.71 L168.85,261.64 L169.10,261.56 L169.35,261.47 L169.60,261.36 L169.85,261.23 L170.10,261.08 L170.35,260.90 L170.60,260.69 L170.85,260.44 L171.10,260.16 L171.35,259.84 L171.60,259.47 L171.85,259.05 L172.10,258.57 L172.35,258.03 L172.60,257.42 L172.85,256.74 L173.10,255.98 L173.35,255.13 L173.60,254.20 L173.85,253.18 L174.10,252.07 L174.35,250.86 L174.60,249.54 L174.85,248.13 L175.10,246.62 L175.35,245.01 L175.60,243.30 L175.85,241.50 L176.10,239.62 L176.35,237.66 L176.60,235.63 L176.85,233.54 L177.10,231.41 L177.35,229.24 L177.60,227.06 L177.85,224.88 L178.10,222.72 L178.35,220.59 L178.60,218.52 L178.85,216.52 L179.10,214.62 L179.35,212.83 L179.60,211.17 L179.85,209.66 L180.10,208.31 L180.35,207.14 L180.60,206.17 L180.85,205.40 L181.10,204.85 L181.35,204.51 L181.60,204.40 L181.85,204.51 L182.10,204.85 L182.35,205.40 L182.60,206.17 L182.85,207.14 L183.10,208.31 L183.35,209.66 L183.60,211.17 L183.85,212.83 L184.10,214.62 L184.35,216.52 L184.60,218.52 L184.85,220.59 L185.10,222.72 L185.35,224.88 L185.60,227.06 L185.85,229.24 L186.10,231.41 L186.35,233.54 L186.60,235.63 L186.85,237.66 L187.10,239.62 L187.35,241.50 L187.60,243.30 L187.85,245.01 L188.10,246.62 L188.35,248.13 L188.60,249.54 L188.85,250.86 L189.10,252.07 L189.35,253.18 L189.60,254.20 L189.85,255.13 L190.10,255.98 L190.35,256.74 L190.60,257.42 L190.85,258.03 L191.10,258.57 L191.35,259.05 L191.60,259.47 L191.85,259.84 L192.10,260.16 L192.35,260.44 L192.60,260.69 L192.85,260.90 L193.10,261.08 L193.35,261.23 L193.60,261.36 L193.85,261.47 L194.10,261.56 L194.35,261.64 L194.60,261.71 L194.85,261.76 L195.10,261.81 L195.35,261.84 L195.60,261.87 L195.85,261.90 L196.10,261.92 L196.35,261.94 L196.60,261.95 L196.85,261.96 L197.10,261.97 L197.35,261.98 L197.60,261.98" stroke="#00ff00" stroke-width="1.2"/>
<path d="M173.10,261.99 L173.35,261.99 L173.60,261.98 L173.85,261.98 L174.10,261.97 L174.35,261.96 L174.60,261.95 L174.85,261.94 L175.10,261.93 L175.35,261.91 L175.60,261.89 L175.85,261.86 L176.10,261.83 L176.35,261.80 L176.60,261.75 L176.85,261.70 L177.10,261.64 L177.35,261.57 L177.60,261.48 L177.85,261.38 L178.10,261.27 L178.35,261.13 L178.60,260.98 L178.85,260.80 L179.10,260.60 L179.35,260.37 L179.60,260.10 L179.85,259.81 L180.10,259.47 L180.35,259.10 L180.60,258.68 L180.85,258.22 L181.10,257.71 L181.35,257.15 L181.60,256.53 L181.85,255.86 L182.10,255.13 L182.35,254.35 L182.60,253.51 L182.85,252.61 L183.10,251.65 L183.35,250.64 L183.60,249.57 L183.85,248.46 L184.10,247.30 L184.35,246.10 L184.60,244.86 L184.85,243.60 L185.10,242.32 L185.35,241.03 L185.60,239.74 L185.85,238.45 L186.10,237.18 L186.35,235.94 L186.60,234.75 L186.85,233.60 L187.10,232.51 L187.35,231.50 L187.60,230.56 L187.85,229.72 L188.10,228.98 L188.35,228.35 L188.60,227.83 L188.85,227.44 L189.10,227.17 L189.35,227.02 L189.60,227.01 L189.85,227.13 L190.10,227.37 L190.35,227.74 L190.60,228.24 L190.85,228.85 L191.10,229.57 L191.35,230.39 L191.60,231.30 L191.85,232.30 L192.10,233.38 L192.35,234.51 L192.60,235.70 L192.85,236.93 L193.10,238.20 L193.35,239.48 L193.60,240.77 L193.85,242.06 L194.10,243.35 L194.35,244.61 L194.60,245.85 L194.85,247.06 L195.10,248.23 L195.35,249.35 L195.60,250.43 L195.85,251.45 L196.10,252.42 L196.35,253.33 L196.60,254.19 L196.85,254.98 L197.10,255.72 L197.35,256.40 L197.60,257.03 L197.85,257.60 L198.10,258.12 L198.35,258.59 L198.60,259.02 L198.85,259.40 L199.10,259.74 L199.35,260.05 L199.60,260.32 L199.85,260.55 L200.10,260.76 L200.35,260.94 L200.60,261.10 L200.85,261.24 L201.10,261.36 L201.35,261.46 L201.60,261.55 L201.85,261.63 L202.10,261.69 L202.35,261.74 L202.60,261.79 L202.85,261.83 L203.10,261.86 L203.35,261.88 L203.60,261.91 L203.85,261.92 L204.10,261.94 L204.35,261.95 L204.60,261.96 L204.85,261.97 L205.10,261.97 L205.35,261.98 L205.60,261.98 L205.85,261.99" stroke="#00ff00" stroke-width="1.2"/>
<path d="M180.40,261.99 L180.65,261.99 L180.90,261.98 L181.15,261.98 L181.40,261.97 L181.65,261.96 L181.90,261.96 L182.15,261.94 L182.40,261.93 L182.65,261.91 L182.90,261.89 L183.15,261.87 L183.40,261.84 L183.65,261.81 L183.90,261.77 L184.15,261.72 L184.40,261.66 L184.65,261.59 L184.90,261.51 L185.15,261.42 L185.40,261.31 L185.65,261.18 L185.90,261.04 L186.15,260.87 L186.40,260.68 L186.65,260.46 L186.90,260.21 L187.15,259.93 L187.40,259.62 L187.65,259.26 L187.90,258.87 L188.15,258.44 L188.40,257.95 L188.65,257.42 L188.90,256.84 L189.15,256.21 L189.40,255.53 L189.65,254.79 L189.90,253.99 L190.15,253.14 L190.40,252.24 L190.65,251.29 L190.90,250.28 L191.15,249.23 L191.40,248.14 L191.65,247.01 L191.90,245.84 L192.15,244.65 L192.40,243.45 L192.65,242.23 L192.90,241.01 L193.15,239.80 L193.40,238.60 L193.65,237.43 L193.90,236.30 L194.15,235.22 L194.40,234.20 L194.65,233.24 L194.90,232.36 L195.15,231.57 L195.40,230.87 L195.65,230.27 L195.90,229.79 L196.15,229.41 L196.40,229.16 L196.65,229.02 L196.90,229.01 L197.15,229.12 L197.40,229.35 L197.65,229.70 L197.90,230.17 L198.15,230.74 L198.40,231.42 L198.65,232.19 L198.90,233.06 L199.15,234.00 L199.40,235.01 L199.65,236.08 L199.90,237.20 L200.15,238.37 L200.40,239.56 L200.65,240.77 L200.90,241.98 L201.15,243.20 L201.40,244.41 L201.65,245.61 L201.90,246.78 L202.15,247.91 L202.40,249.02 L202.65,250.08 L202.90,251.09 L203.15,252.05 L203.40,252.97 L203.65,253.83 L203.90,254.63 L204.15,255.38 L204.40,256.08 L204.65,256.72 L204.90,257.31 L205.15,257.85 L205.40,258.34 L205.65,258.79 L205.90,259.19 L206.15,259.55 L206.40,259.87 L206.65,260.16 L206.90,260.41 L207.15,260.64 L207.40,260.83 L207.65,261.01 L207.90,261.15 L208.15,261.28 L208.40,261.40 L208.65,261.49 L208.90,261.58 L209.15,261.65 L209.40,261.71 L209.65,261.76 L209.90,261.80 L210.15,261.84 L210.40,261.87 L210.65,261.89 L210.90,261.91 L211.15,261.93 L211.40,261.94 L211.65,261.95 L211.90,261.96 L212.15,261.97 L212.40,261.98 L212.65,261.98 L212.90,261.99 L213.15,261.99" stroke="#00ff00" stroke-width="1.2"/>
<path d="M188.60,261.99 L188.85,261.99 L189.10,261.99 L189.35,261.98 L189.60,261.98 L189.85,261.97 L190.10,261.97 L190.35,261.96 L190.60,261.95 L190.85,261.94 L191.10,261.92 L191.35,261.90 L191.60,261.88 L191.85,261.86 L192.10,261.83 L192.35,261.79 L192.60,261.75 L192.85,261.70 L193.10,261.64 L193.35,261.57 L193.60,261.48 L193.85,261.39 L194.10,261.28 L194.35,261.16 L194.60,261.01 L194.85,260.85 L195.10,260.67 L195.35,260.46 L195.60,260.22 L195.85,259.96 L196.10,259.67 L196.35,259.34 L196.60,258.98 L196.85,258.59 L197.10,258.16 L197.35,257.69 L197.60,257.17 L197.85,256.62 L198.10,256.03 L198.35,255.40 L198.60,254.73 L198.85,254.01 L199.10,253.26 L199.35,252.48 L199.60,251.67 L199.85,250.82 L200.10,249.96 L200.35,249.07 L200.60,248.17 L200.85,247.26 L201.10,246.35 L201.35,245.45 L201.60,244.56 L201.85,243.69 L202.10,242.84 L202.35,242.04 L202.60,241.27 L202.85,240.56 L203.10,239.90 L203.35,239.31 L203.60,238.79 L203.85,238.35 L204.10,237.99 L204.35,237.71 L204.60,237.52 L204.85,237.42 L205.10,237.41 L205.35,237.49 L205.60,237.66 L205.85,237.92 L206.10,238.27 L206.35,238.70 L206.60,239.20 L206.85,239.78 L207.10,240.42 L207.35,241.13 L207.60,241.88 L207.85,242.68 L208.10,243.52 L208.35,244.38 L208.60,245.27 L208.85,246.17 L209.10,247.08 L209.35,247.99 L209.60,248.89 L209.85,249.78 L210.10,250.65 L210.35,251.50 L210.60,252.32 L210.85,253.11 L211.10,253.87 L211.35,254.59 L211.60,255.27 L211.85,255.91 L212.10,256.51 L212.35,257.07 L212.60,257.59 L212.85,258.07 L213.10,258.51 L213.35,258.91 L213.60,259.27 L213.85,259.61 L214.10,259.90 L214.35,260.17 L214.60,260.41 L214.85,260.63 L215.10,260.82 L215.35,260.98 L215.60,261.13 L215.85,261.26 L216.10,261.37 L216.35,261.47 L216.60,261.55 L216.85,261.62 L217.10,261.68 L217.35,261.74 L217.60,261.78 L217.85,261.82 L218.10,261.85 L218.35,261.88 L218.60,261.90 L218.85,261.92 L219.10,261.93 L219.35,261.95 L219.60,261.96 L219.85,261.97 L220.10,261.97 L220.35,261.98 L220.60,261.98 L220.85,261.99 L221.10,261.99 L221.35,261.99" stroke="#00ff00" stroke-width="1.2"/>
<path d="M196.10,261.99 L196.35,261.99 L196.60,261.99 L196.85,261.99 L197.10,261.98 L197.35,261.98 L197.60,261.97 L197.85,261.97 L198.10,261.96 L198.35,261.95 L198.60,261.93 L198.85,261.92 L199.10,261.90 L199.35,261.88 L199.60,261.85 L199.85,261.82 L200.10,261.79 L200.35,261.74 L200.60,261.69 L200.85,261.64 L201.10,261.57 L201.35,261.49 L201.60,261.40 L201.85,261.29 L202.10,261.17 L202.35,261.04 L202.60,260.88 L202.85,260.71 L203.10,260.51 L203.35,260.29 L203.60,260.05 L203.85,259.78 L204.10,259.47 L204.35,259.14 L204.60,258.78 L204.85,258.39 L205.10,257.96 L205.35,257.50 L205.60,257.00 L205.85,256.47 L206.10,255.91 L206.35,255.31 L206.60,254.69 L206.85,254.03 L207.10,253.35 L207.35,252.64 L207.60,251.91 L207.85,251.17 L208.10,250.42 L208.35,249.66 L208.60,248.90 L208.85,248.14 L209.10,247.39 L209.35,246.66 L209.60,245.96 L209.85,245.28 L210.10,244.64 L210.35,244.05 L210.60,243.50 L210.85,243.00 L211.10,242.57 L211.35,242.19 L211.60,241.89 L211.85,241.66 L212.10,241.50 L212.35,241.41 L212.60,241.41 L212.85,241.47 L213.10,241.62 L213.35,241.84 L213.60,242.13 L213.85,242.49 L214.10,242.91 L214.35,243.39 L214.60,243.93 L214.85,244.52 L215.10,245.15 L215.35,245.82 L215.60,246.52 L215.85,247.25 L216.10,247.99 L216.35,248.74 L216.60,249.51 L216.85,250.27 L217.10,251.02 L217.35,251.77 L217.60,252.50 L217.85,253.21 L218.10,253.89 L218.35,254.56 L218.60,255.19 L218.85,255.79 L219.10,256.36 L219.35,256.90 L219.60,257.40 L219.85,257.87 L220.10,258.30 L220.35,258.71 L220.60,259.07 L220.85,259.41 L221.10,259.72 L221.35,259.99 L221.60,260.25 L221.85,260.47 L222.10,260.67 L222.35,260.85 L222.60,261.01 L222.85,261.15 L223.10,261.27 L223.35,261.38 L223.60,261.47 L223.85,261.55 L224.10,261.62 L224.35,261.68 L224.60,261.74 L224.85,261.78 L225.10,261.82 L225.35,261.85 L225.60,261.87 L225.85,261.90 L226.10,261.92 L226.35,261.93 L226.60,261.94 L226.85,261.95 L227.10,261.96 L227.35,261.97 L227.60,261.98 L227.85,261.98 L228.10,261.99 L228.35,261.99 L228.60,261.99 L228.85,261.99" stroke="#00ff00" stroke-width="1.2"/>
<path d="M203.30,261.99 L203.55,261.99 L203.80,261.99 L204.05,261.99 L204.30,261.98 L204.55,261.98 L204.80,261.97 L205.05,261.97 L205.30,261.96 L205.55,261.95 L205.80,261.94 L206.05,261.93 L206.30,261.91 L206.55,261.89 L206.80,261.87 L207.05,261.84 L207.30,261.80 L207.55,261.76 L207.80,261.72 L208.05,261.66 L208.30,261.60 L208.55,261.53 L208.80,261.45 L209.05,261.35 L209.30,261.24 L209.55,261.11 L209.80,260.97 L210.05,260.81 L210.30,260.63 L210.55,260.43 L210.80,260.20 L211.05,259.95 L211.30,259.67 L211.55,259.37 L211.80,259.03 L212.05,258.67 L212.30,258.27 L212.55,257.85 L212.80,257.39 L213.05,256.90 L213.30,256.38 L213.55,255.83 L213.80,255.25 L214.05,254.65 L214.30,254.02 L214.55,253.37 L214.80,252.70 L215.05,252.01 L215.30,251.32 L215.55,250.62 L215.80,249.91 L216.05,249.22 L216.30,248.53 L216.55,247.86 L216.80,247.20 L217.05,246.58 L217.30,245.99 L217.55,245.44 L217.80,244.93 L218.05,244.48 L218.30,244.08 L218.55,243.73 L218.80,243.45 L219.05,243.24 L219.30,243.09 L219.55,243.01 L219.80,243.01 L220.05,243.07 L220.30,243.20 L220.55,243.40 L220.80,243.67 L221.05,244.00 L221.30,244.39 L221.55,244.84 L221.80,245.34 L222.05,245.88 L222.30,246.46 L222.55,247.08 L222.80,247.72 L223.05,248.39 L223.30,249.08 L223.55,249.77 L223.80,250.48 L224.05,251.18 L224.30,251.87 L224.55,252.56 L224.80,253.23 L225.05,253.89 L225.30,254.52 L225.55,255.13 L225.80,255.72 L226.05,256.27 L226.30,256.80 L226.55,257.29 L226.80,257.76 L227.05,258.19 L227.30,258.59 L227.55,258.96 L227.80,259.30 L228.05,259.61 L228.30,259.89 L228.55,260.15 L228.80,260.38 L229.05,260.59 L229.30,260.77 L229.55,260.94 L229.80,261.09 L230.05,261.21 L230.30,261.33 L230.55,261.43 L230.80,261.51 L231.05,261.59 L231.30,261.65 L231.55,261.71 L231.80,261.76 L232.05,261.80 L232.30,261.83 L232.55,261.86 L232.80,261.88 L233.05,261.91 L233.30,261.92 L233.55,261.94 L233.80,261.95 L234.05,261.96 L234.30,261.97 L234.55,261.97 L234.80,261.98 L235.05,261.98 L235.30,261.99 L235.55,261.99 L235.80,261.99 L236.05,261.99" stroke="#00ff00" stroke-width="1.2"/>
<path d="M210.50,262.00 L210.75,261.99 L211.00,261.99 L211.25,261.99 L211.50,261.99 L211.75,261.99 L212.00,261.98 L212.25,261.98 L212.50,261.97 L212.75,261.97 L213.00,261.96 L213.25,261.95 L213.50,261.94 L213.75,261.92 L214.00,261.90 L214.25,261.88 L214.50,261.86 L214.75,261.83 L215.00,261.80 L215.25,261.76 L215.50,261.72 L215.75,261.67 L216.00,261.61 L216.25,261.54 L216.50,261.46 L216.75,261.37 L217.00,261.27 L217.25,261.15 L217.50,261.03 L217.75,260.88 L218.00,260.72 L218.25,260.54 L218.50,260.34 L218.75,260.13 L219.00,259.89 L219.25,259.63 L219.50,259.35 L219.75,259.05 L220.00,258.72 L220.25,258.38 L220.50,258.01 L220.75,257.62 L221.00,257.21 L221.25,256.78 L221.50,256.33 L221.75,255.87 L222.00,255.39 L222.25,254.90 L222.50,254.41 L222.75,253.91 L223.00,253.41 L223.25,252.92 L223.50,252.43 L223.75,251.95 L224.00,251.49 L224.25,251.04 L224.50,250.63 L224.75,250.23 L225.00,249.87 L225.25,249.55 L225.50,249.26 L225.75,249.02 L226.00,248.82 L226.25,248.67 L226.50,248.56 L226.75,248.51 L227.00,248.50 L227.25,248.55 L227.50,248.64 L227.75,248.79 L228.00,248.98 L228.25,249.21 L228.50,249.49 L228.75,249.81 L229.00,250.16 L229.25,250.54 L229.50,250.96 L229.75,251.40 L230.00,251.86 L230.25,252.33 L230.50,252.82 L230.75,253.31 L231.00,253.81 L231.25,254.31 L231.50,254.81 L231.75,255.29 L232.00,255.77 L232.25,256.24 L232.50,256.69 L232.75,257.12 L233.00,257.54 L233.25,257.93 L233.50,258.30 L233.75,258.66 L234.00,258.99 L234.25,259.29 L234.50,259.58 L234.75,259.84 L235.00,260.08 L235.25,260.30 L235.50,260.50 L235.75,260.69 L236.00,260.85 L236.25,261.00 L236.50,261.13 L236.75,261.25 L237.00,261.35 L237.25,261.44 L237.50,261.52 L237.75,261.59 L238.00,261.65 L238.25,261.71 L238.50,261.75 L238.75,261.79 L239.00,261.83 L239.25,261.86 L239.50,261.88 L239.75,261.90 L240.00,261.92 L240.25,261.93 L240.50,261.94 L240.75,261.96 L241.00,261.96 L241.25,261.97 L241.50,261.98 L241.75,261.98 L242.00,261.98 L242.25,261.99 L242.50,261.99 L242.75,261.99 L243.00,261.99 L243.25,262.00" stroke="#00ff00" stroke-width="1.2"/>
<path d="M217.10,262.00 L217.35,262.00 L217.60,261.99 L217.85,261.99 L218.10,261.99 L218.35,261.99 L218.60,261.99 L218.85,261.98 L219.10,261.98 L219.35,261.97 L219.60,261.96 L219.85,261.96 L220.10,261.95 L220.35,261.94 L220.60,261.92 L220.85,261.91 L221.10,261.89 L221.35,261.86 L221.60,261.84 L221.85,261.81 L222.10,261.77 L222.35,261.73 L222.60,261.68 L222.85,261.62 L223.10,261.56 L223.35,261.49 L223.60,261.40 L223.85,261.31 L224.10,261.21 L224.35,261.09 L224.60,260.96 L224.85,260.81 L225.10,260.65 L225.35,260.47 L225.60,260.28 L225.85,260.07 L226.10,259.84 L226.35,259.60 L226.60,259.33 L226.85,259.05 L227.10,258.75 L227.35,258.43 L227.60,258.09 L227.85,257.74 L228.10,257.38 L228.35,257.00 L228.60,256.61 L228.85,256.22 L229.10,255.82 L229.35,255.41 L229.60,255.00 L229.85,254.60 L230.10,254.20 L230.35,253.81 L230.60,253.43 L230.85,253.07 L231.10,252.73 L231.35,252.41 L231.60,252.12 L231.85,251.86 L232.10,251.62 L232.35,251.42 L232.60,251.26 L232.85,251.14 L233.10,251.05 L233.35,251.01 L233.60,251.00 L233.85,251.04 L234.10,251.12 L234.35,251.23 L234.60,251.39 L234.85,251.58 L235.10,251.81 L235.35,252.06 L235.60,252.35 L235.85,252.67 L236.10,253.00 L236.35,253.36 L236.60,253.73 L236.85,254.12 L237.10,254.52 L237.35,254.92 L237.60,255.33 L237.85,255.73 L238.10,256.14 L238.35,256.54 L238.60,256.93 L238.85,257.30 L239.10,257.67 L239.35,258.03 L239.60,258.36 L239.85,258.68 L240.10,258.99 L240.35,259.28 L240.60,259.54 L240.85,259.79 L241.10,260.03 L241.35,260.24 L241.60,260.44 L241.85,260.62 L242.10,260.78 L242.35,260.93 L242.60,261.06 L242.85,261.18 L243.10,261.29 L243.35,261.39 L243.60,261.47 L243.85,261.55 L244.10,261.61 L244.35,261.67 L244.60,261.72 L244.85,261.76 L245.10,261.80 L245.35,261.83 L245.60,261.86 L245.85,261.88 L246.10,261.90 L246.35,261.92 L246.60,261.93 L246.85,261.95 L247.10,261.96 L247.35,261.96 L247.60,261.97 L247.85,261.98 L248.10,261.98 L248.35,261.98 L248.60,261.99 L248.85,261.99 L249.10,261.99 L249.35,261.99 L249.60,262.00 L249.85,262.00" stroke="#00ff00" stroke-width="1.2"/>
<path d="M105.00,258.00 L105.25,258.00 L105.50,258.00 L105.75,258.00 L106.00,258.00 L106.25,258.00 L106.50,258.00 L106.75,258.00 L107.00,258.00 L107.25,258.00 L107.50,258.00 L107.75,258.00 L108.00,258.00 L108.25,257.99 L108.50,257.99 L108.75,257.99 L109.00,257.98 L109.25,257.98 L109.50,257.97 L109.75,257.96 L110.00,257.95 L110.25,257.94 L110.50,257.92 L110.75,257.90 L111.00,257.88 L111.25,257.85 L111.50,257.81 L111.75,257.76 L112.00,257.71 L112.25,257.64 L112.50,257.56 L112.75,257.47 L113.00,257.36 L113.25,257.23 L113.50,257.09 L113.75,256.92 L114.00,256.73 L114.25,256.52 L114.50,256.28 L114.75,256.01 L115.00,255.72 L115.25,255.40 L115.50,255.05 L115.75,254.68 L116.00,254.28 L116.25,253.86 L116.50,253.42 L116.75,252.97 L117.00,252.50 L117.25,252.03 L117.50,251.56 L117.75,251.09 L118.00,250.63 L118.25,250.19 L118.50,249.77 L118.75,249.39 L119.00,249.04 L119.25,248.73 L119.50,248.48 L119.75,248.27 L120.00,248.12 L120.25,248.03 L120.50,248.00 L120.75,248.03 L121.00,248.12 L121.25,248.27 L121.50,248.48 L121.75,248.73 L122.00,249.04 L122.25,249.39 L122.50,249.77 L122.75,250.19 L123.00,250.63 L123.25,251.09 L123.50,251.56 L123.75,252.03 L124.00,252.50 L124.25,252.97 L124.50,253.42 L124.75,253.86 L125.00,254.28 L125.25,254.68 L125.50,255.05 L125.75,255.40 L126.00,255.72 L126.25,256.01 L126.50,256.28 L126.75,256.52 L127.00,256.73 L127.25,256.92 L127.50,257.09 L127.75,257.23 L128.00,257.36 L128.25,257.47 L128.50,257.56 L128.75,257.64 L129.00,257.71 L129.25,257.76 L129.50,257.81 L129.75,257.85 L130.00,257.88 L130.25,257.90 L130.50,257.92 L130.75,257.94 L131.00,257.95 L131.25,257.96 L131.50,257.97 L131.75,257.98 L132.00,257.98 L132.25,257.99 L132.50,257.99 L132.75,257.99 L133.00,258.00 L133.25,258.00 L133.50,258.00 L133.75,258.00 L134.00,258.00 L134.25,258.00 L134.50,258.00 L134.75,258.00" stroke="#000" stroke-width="1.1"/>
<path d="M96.00,253.50 C97.67,253.42 103.21,253.25 106.00,253.00 C108.79,252.75 111.18,252.62 112.75,252.00 C114.32,251.38 114.44,250.25 115.40,249.30 C116.36,248.35 117.57,246.78 118.50,246.30 C119.43,245.82 120.20,246.32 121.00,246.40 C121.80,246.48 122.63,247.37 123.30,246.80 C123.97,246.23 124.47,244.72 125.00,243.00 C125.53,241.28 125.97,239.08 126.50,236.50 C127.03,233.92 127.67,230.25 128.20,227.50 C128.73,224.75 129.07,222.75 129.70,220.00 C130.33,217.25 131.25,213.15 132.00,211.00 C132.75,208.85 133.45,207.38 134.20,207.10 C134.95,206.82 135.70,208.18 136.50,209.30 C137.30,210.42 138.20,213.43 139.00,213.80 C139.80,214.17 140.63,212.97 141.30,211.50 C141.97,210.03 142.53,207.08 143.00,205.00 C143.47,202.92 143.68,201.50 144.10,199.00 C144.52,196.50 144.98,193.25 145.50,190.00 C146.02,186.75 146.57,182.20 147.20,179.50 C147.83,176.80 148.53,174.33 149.30,173.80 C150.07,173.27 151.05,174.77 151.80,176.30 C152.55,177.83 153.17,180.63 153.80,183.00 C154.43,185.37 155.00,188.70 155.60,190.50 C156.20,192.30 156.73,193.80 157.40,193.80 C158.07,193.80 158.92,192.47 159.60,190.50 C160.28,188.53 160.90,184.83 161.50,182.00 C162.10,179.17 162.57,175.73 163.20,173.50 C163.83,171.27 164.58,169.18 165.30,168.60 C166.02,168.02 166.83,168.93 167.50,170.00 C168.17,171.07 168.72,173.25 169.30,175.00 C169.88,176.75 170.42,178.83 171.00,180.50 C171.58,182.17 172.17,183.78 172.80,185.00 C173.43,186.22 174.13,187.50 174.80,187.80 C175.47,188.10 176.13,187.35 176.80,186.80 C177.47,186.25 178.13,184.92 178.80,184.50 C179.47,184.08 180.13,184.05 180.80,184.30 C181.47,184.55 182.13,185.13 182.80,186.00 C183.47,186.87 184.13,188.00 184.80,189.50 C185.47,191.00 186.17,193.17 186.80,195.00 C187.43,196.83 187.98,198.83 188.60,200.50 C189.22,202.17 189.75,203.73 190.50,205.00 C191.25,206.27 192.17,207.08 193.10,208.10 C194.03,209.12 195.10,209.97 196.10,211.10 C197.10,212.23 198.10,213.63 199.10,214.90 C200.10,216.17 201.12,217.35 202.10,218.70 C203.08,220.05 204.05,221.47 205.00,223.00 C205.95,224.53 206.88,226.48 207.80,227.90 C208.72,229.32 209.67,230.62 210.50,231.50 C211.33,232.38 212.05,232.95 212.80,233.20 C213.55,233.45 214.25,233.07 215.00,233.00 C215.75,232.93 216.52,232.63 217.30,232.80 C218.08,232.97 218.90,233.48 219.70,234.00 C220.50,234.52 221.22,234.98 222.10,235.90 C222.98,236.82 224.07,238.32 225.00,239.50 C225.93,240.68 226.78,241.95 227.70,243.00 C228.62,244.05 229.58,245.02 230.50,245.80 C231.42,246.58 232.28,247.08 233.20,247.70 C234.12,248.32 235.07,248.97 236.00,249.50 C236.93,250.03 237.30,250.48 238.80,250.90 C240.30,251.32 243.97,251.82 245.00,252.00" stroke="#800000" stroke-width="1.7"/>
</g>
<g fill="#0000ff" clip-path="url(#cc)">
<circle cx="147.9" cy="165.6" r="1.85"/>
<circle cx="149.5" cy="170.3" r="1.85"/>
<circle cx="147.9" cy="172.7" r="1.85"/>
<circle cx="151.9" cy="179.9" r="1.85"/>
<circle cx="150.3" cy="183.0" r="1.85"/>
<circle cx="159.0" cy="175.9" r="1.85"/>
<circle cx="155.0" cy="193.4" r="1.85"/>
<circle cx="157.4" cy="195.7" r="1.85"/>
<circle cx="165.4" cy="165.6" r="1.85"/>
<circle cx="163.8" cy="170.3" r="1.85"/>
<circle cx="169.3" cy="175.9" r="1.85"/>
<circle cx="168.5" cy="183.8" r="1.85"/>
<circle cx="172.5" cy="179.9" r="1.85"/>
<circle cx="174.1" cy="184.6" r="1.85"/>
<circle cx="170.9" cy="187.8" r="1.85"/>
<circle cx="174.9" cy="190.2" r="1.85"/>
<circle cx="142.3" cy="197.3" r="1.85"/>
<circle cx="143.9" cy="200.5" r="1.85"/>
<circle cx="143.1" cy="202.9" r="1.85"/>
<circle cx="152.0" cy="174.3" r="1.85"/>
<circle cx="153.7" cy="186.5" r="1.85"/>
<circle cx="162.4" cy="173.5" r="1.85"/>
<circle cx="169.4" cy="161.2" r="1.85"/>
<circle cx="162.4" cy="179.6" r="1.85"/>
<circle cx="171.9" cy="176.2" r="1.85"/>
<circle cx="175.0" cy="180.2" r="1.85"/>
<circle cx="178.2" cy="181.7" r="1.85"/>
<circle cx="180.6" cy="181.0" r="1.85"/>
<circle cx="183.8" cy="178.6" r="1.85"/>
<circle cx="181.4" cy="187.3" r="1.85"/>
<circle cx="161.6" cy="188.9" r="1.85"/>
<circle cx="177.5" cy="192.6" r="1.85"/>
<circle cx="187.0" cy="187.0" r="1.85"/>
<circle cx="185.5" cy="192.6" r="1.85"/>
<circle cx="188.6" cy="194.2" r="1.85"/>
<circle cx="189.4" cy="197.3" r="1.85"/>
<circle cx="176.7" cy="202.9" r="1.85"/>
<circle cx="186.3" cy="202.1" r="1.85"/>
<circle cx="198.2" cy="202.1" r="1.85"/>
<circle cx="181.0" cy="190.0" r="1.85"/>
<circle cx="182.5" cy="192.3" r="1.85"/>
<circle cx="191.6" cy="203.6" r="1.85"/>
<circle cx="196.9" cy="207.4" r="1.85"/>
<circle cx="187.8" cy="208.1" r="1.85"/>
<circle cx="199.9" cy="212.7" r="1.85"/>
<circle cx="191.6" cy="214.9" r="1.85"/>
<circle cx="194.6" cy="215.7" r="1.85"/>
<circle cx="200.6" cy="218.7" r="1.85"/>
<circle cx="204.4" cy="216.4" r="1.85"/>
<circle cx="210.4" cy="214.9" r="1.85"/>
<circle cx="203.2" cy="224.0" r="1.85"/>
<circle cx="210.2" cy="227.9" r="1.85"/>
<circle cx="215.7" cy="227.1" r="1.85"/>
<circle cx="218.9" cy="226.3" r="1.85"/>
<circle cx="206.2" cy="230.3" r="1.85"/>
<circle cx="211.8" cy="231.1" r="1.85"/>
<circle cx="222.9" cy="231.8" r="1.85"/>
<circle cx="228.4" cy="232.6" r="1.85"/>
<circle cx="207.8" cy="236.6" r="1.85"/>
<circle cx="214.2" cy="236.6" r="1.85"/>
<circle cx="218.1" cy="236.6" r="1.85"/>
<circle cx="223.7" cy="235.8" r="1.85"/>
<circle cx="212.6" cy="241.4" r="1.85"/>
<circle cx="222.1" cy="241.4" r="1.85"/>
<circle cx="225.3" cy="242.2" r="1.85"/>
<circle cx="231.6" cy="243.7" r="1.85"/>
<circle cx="236.4" cy="244.5" r="1.85"/>
<circle cx="227.7" cy="247.7" r="1.85"/>
<circle cx="233.2" cy="246.1" r="1.85"/>
<circle cx="234.8" cy="249.3" r="1.85"/>
<circle cx="238.8" cy="249.3" r="1.85"/>
<circle cx="135.0" cy="204.0" r="1.85"/>
<circle cx="137.4" cy="203.1" r="1.85"/>
<circle cx="132.6" cy="208.7" r="1.85"/>
<circle cx="133.4" cy="214.3" r="1.85"/>
<circle cx="139.0" cy="211.1" r="1.85"/>
<circle cx="143.0" cy="210.3" r="1.85"/>
<circle cx="141.4" cy="221.4" r="1.85"/>
<circle cx="127.1" cy="223.8" r="1.85"/>
<circle cx="129.5" cy="226.2" r="1.85"/>
<circle cx="126.3" cy="227.0" r="1.85"/>
<circle cx="125.2" cy="237.8" r="1.85"/>
<circle cx="122.7" cy="239.0" r="1.85"/>
<circle cx="120.8" cy="244.1" r="1.85"/>
<circle cx="117.6" cy="247.3" r="1.85"/>
<circle cx="114.4" cy="248.6" r="1.85"/>
<circle cx="96.5" cy="252.6" r="1.85"/>
<circle cx="100.8" cy="252.8" r="1.85"/>
<circle cx="105.2" cy="252.8" r="1.85"/>
<circle cx="130.2" cy="219.7" r="1.85"/>
<circle cx="131.1" cy="217.0" r="1.85"/>
<circle cx="137.5" cy="213.3" r="1.85"/>
</g>
<g clip-path="url(#cd)" fill="none" stroke-linejoin="round">
<path d="M230.00,261.51 L230.50,261.42 L231.00,261.32 L231.50,261.23 L232.00,261.13 L232.50,261.03 L233.00,260.93 L233.50,260.83 L234.00,260.73 L234.50,260.62 L235.00,260.51 L235.50,260.40 L236.00,260.29 L236.50,260.18 L237.00,260.06 L237.50,259.94 L238.00,259.82 L238.50,259.70 L239.00,259.57 L239.50,259.45 L240.00,259.32 L240.50,259.18 L241.00,259.05 L241.50,258.91 L242.00,258.77 L242.50,258.63 L243.00,258.49 L243.50,258.34 L244.00,258.20 L244.50,258.04 L245.00,257.89 L245.50,257.73 L246.00,257.58 L246.50,257.42 L247.00,257.25 L247.50,257.08 L248.00,256.92 L248.50,256.74 L249.00,256.57 L249.50,256.39 L250.00,256.21 L250.50,256.03 L251.00,255.84 L251.50,255.66 L252.00,255.47 L252.50,255.27 L253.00,255.07 L253.50,254.87 L254.00,254.67 L254.50,254.47 L255.00,254.26 L255.50,254.05 L256.00,253.83 L256.50,253.62 L257.00,253.39 L257.50,253.17 L258.00,252.95 L258.50,252.72 L259.00,252.48 L259.50,252.25 L260.00,252.01 L260.50,251.77 L261.00,251.52 L261.50,251.27 L262.00,251.02 L262.50,250.77 L263.00,250.51 L263.50,250.25 L264.00,249.99 L264.50,249.72 L265.00,249.45 L265.50,249.18 L266.00,248.90 L266.50,248.62 L267.00,248.34 L267.50,248.05 L268.00,247.76 L268.50,247.47 L269.00,247.17 L269.50,246.87 L270.00,246.57 L270.50,246.27 L271.00,245.96 L271.50,245.65 L272.00,245.33 L272.50,245.01 L273.00,244.69 L273.50,244.37 L274.00,244.04 L274.50,243.71 L275.00,243.38 L275.50,243.04 L276.00,242.70 L276.50,242.36 L277.00,242.01 L277.50,241.66 L278.00,241.31 L278.50,240.95 L279.00,240.60 L279.50,240.24 L280.00,239.87 L280.50,239.50 L281.00,239.14 L281.50,238.76 L282.00,238.39 L282.50,238.01 L283.00,237.63 L283.50,237.25 L284.00,236.86 L284.50,236.47 L285.00,236.08 L285.50,235.68 L286.00,235.29 L286.50,234.89 L287.00,234.49 L287.50,234.08 L288.00,233.68 L288.50,233.27 L289.00,232.86 L289.50,232.45 L290.00,232.03 L290.50,231.61 L291.00,231.19 L291.50,230.77 L292.00,230.35 L292.50,229.92 L293.00,229.50 L293.50,229.07 L294.00,228.64 L294.50,228.20 L295.00,227.77 L295.50,227.33 L296.00,226.90 L296.50,226.46 L297.00,226.02 L297.50,225.58 L298.00,225.13 L298.50,224.69 L299.00,224.24 L299.50,223.80 L300.00,223.35 L300.50,222.90 L301.00,222.45 L301.50,222.01 L302.00,221.56 L302.50,221.10 L303.00,220.65 L303.50,220.20 L304.00,219.75 L304.50,219.30 L305.00,218.85 L305.50,218.39 L306.00,217.94 L306.50,217.49 L307.00,217.04 L307.50,216.58 L308.00,216.13 L308.50,215.68 L309.00,215.23 L309.50,214.78 L310.00,214.33 L310.50,213.88 L311.00,213.43 L311.50,212.98 L312.00,212.54 L312.50,212.09 L313.00,211.65 L313.50,211.21 L314.00,210.76 L314.50,210.32 L315.00,209.89 L315.50,209.45 L316.00,209.01 L316.50,208.58 L317.00,208.15 L317.50,207.72 L318.00,207.29 L318.50,206.87 L319.00,206.45 L319.50,206.03 L320.00,205.61 L320.50,205.19 L321.00,204.78 L321.50,204.37 L322.00,203.97 L322.50,203.56 L323.00,203.16 L323.50,202.77 L324.00,202.37 L324.50,201.98 L325.00,201.59 L325.50,201.21 L326.00,200.83 L326.50,200.45 L327.00,200.08 L327.50,199.71 L328.00,199.35 L328.50,198.99 L329.00,198.63 L329.50,198.28 L330.00,197.93 L330.50,197.59 L331.00,197.25 L331.50,196.92 L332.00,196.59 L332.50,196.27 L333.00,195.95 L333.50,195.63 L334.00,195.32 L334.50,195.02 L335.00,194.72 L335.50,194.42 L336.00,194.14 L336.50,193.85 L337.00,193.57 L337.50,193.30 L338.00,193.04 L338.50,192.77 L339.00,192.52 L339.50,192.27 L340.00,192.03 L340.50,191.79 L341.00,191.56 L341.50,191.33 L342.00,191.11 L342.50,190.90 L343.00,190.70 L343.50,190.49 L344.00,190.30 L344.50,190.11 L345.00,189.93 L345.50,189.76 L346.00,189.59 L346.50,189.43 L347.00,189.28 L347.50,189.13 L348.00,188.99 L348.50,188.85 L349.00,188.72 L349.50,188.60 L350.00,188.49 L350.50,188.38 L351.00,188.28 L351.50,188.19 L352.00,188.11 L352.50,188.03 L353.00,187.96 L353.50,187.89 L354.00,187.83 L354.50,187.78 L355.00,187.74 L355.50,187.70 L356.00,187.67 L356.50,187.65 L357.00,187.64 L357.50,187.63 L358.00,187.63 L358.50,187.64 L359.00,187.65 L359.50,187.67 L360.00,187.70 L360.50,187.74 L361.00,187.78 L361.50,187.83 L362.00,187.89 L362.50,187.95 L363.00,188.02 L363.50,188.10 L364.00,188.18 L364.50,188.28 L365.00,188.38 L365.50,188.48 L366.00,188.59 L366.50,188.71 L367.00,188.84 L367.50,188.98 L368.00,189.12 L368.50,189.26 L369.00,189.42 L369.50,189.58 L370.00,189.74 L370.50,189.92 L371.00,190.10 L371.50,190.29 L372.00,190.48 L372.50,190.68 L373.00,190.88 L373.50,191.10 L374.00,191.32 L374.50,191.54 L375.00,191.77 L375.50,192.01 L376.00,192.25 L376.50,192.50 L377.00,192.75 L377.50,193.01 L378.00,193.28 L378.50,193.55 L379.00,193.83 L379.50,194.11 L380.00,194.40 L380.50,194.69 L381.00,194.99 L381.50,195.30 L382.00,195.61 L382.50,195.92 L383.00,196.24 L383.50,196.56 L384.00,196.89 L384.50,197.23 L385.00,197.56 L385.50,197.91 L386.00,198.25 L386.50,198.61 L387.00,198.96 L387.50,199.32 L388.00,199.68 L388.50,200.05 L389.00,200.43 L389.50,200.80 L390.00,201.18 L390.50,201.56 L391.00,201.95 L391.50,202.34 L392.00,202.73 L392.50,203.13 L393.00,203.53 L393.50,203.93 L394.00,204.34 L394.50,204.75 L395.00,205.16 L395.50,205.58 L396.00,205.99 L396.50,206.41 L397.00,206.84 L397.50,207.26 L398.00,207.69 L398.50,208.12 L399.00,208.55 L399.50,208.98 L400.00,209.41 L400.50,209.85 L401.00,210.29 L401.50,210.73 L402.00,211.17 L402.50,211.61 L403.00,212.06 L403.50,212.50 L404.00,212.95 L404.50,213.39 L405.00,213.84 L405.50,214.29 L406.00,214.74 L406.50,215.19 L407.00,215.64 L407.50,216.09 L408.00,216.55 L408.50,217.00 L409.00,217.45 L409.50,217.90 L410.00,218.36 L410.50,218.81 L411.00,219.26 L411.50,219.71 L412.00,220.17 L412.50,220.62 L413.00,221.07 L413.50,221.52 L414.00,221.97 L414.50,222.42 L415.00,222.87 L415.50,223.32 L416.00,223.76 L416.50,224.21 L417.00,224.65 L417.50,225.10 L418.00,225.54 L418.50,225.98 L419.00,226.42 L419.50,226.86 L420.00,227.30 L420.50,227.73 L421.00,228.17 L421.50,228.60 L422.00,229.03 L422.50,229.46 L423.00,229.89 L423.50,230.31 L424.00,230.74 L424.50,231.16 L425.00,231.58 L425.50,232.00 L426.00,232.41 L426.50,232.83 L427.00,233.24 L427.50,233.65 L428.00,234.05 L428.50,234.46 L429.00,234.86 L429.50,235.26 L430.00,235.65 L430.50,236.05 L431.00,236.44 L431.50,236.83 L432.00,237.21 L432.50,237.60" stroke="#00ff00" stroke-width="1.3"/>
<path d="M230.00,240.66 L230.50,240.57 L231.00,240.48 L231.50,240.39 L232.00,240.29 L232.50,240.19 L233.00,240.10 L233.50,240.00 L234.00,239.90 L234.50,239.79 L235.00,239.69 L235.50,239.58 L236.00,239.48 L236.50,239.37 L237.00,239.26 L237.50,239.15 L238.00,239.03 L238.50,238.92 L239.00,238.80 L239.50,238.68 L240.00,238.56 L240.50,238.44 L241.00,238.31 L241.50,238.19 L242.00,238.06 L242.50,237.93 L243.00,237.80 L243.50,237.66 L244.00,237.52 L244.50,237.39 L245.00,237.25 L245.50,237.10 L246.00,236.96 L246.50,236.81 L247.00,236.66 L247.50,236.51 L248.00,236.36 L248.50,236.20 L249.00,236.04 L249.50,235.88 L250.00,235.72 L250.50,235.55 L251.00,235.39 L251.50,235.21 L252.00,235.04 L252.50,234.87 L253.00,234.69 L253.50,234.51 L254.00,234.32 L254.50,234.14 L255.00,233.95 L255.50,233.76 L256.00,233.57 L256.50,233.37 L257.00,233.17 L257.50,232.97 L258.00,232.76 L258.50,232.55 L259.00,232.34 L259.50,232.13 L260.00,231.91 L260.50,231.69 L261.00,231.47 L261.50,231.25 L262.00,231.02 L262.50,230.79 L263.00,230.55 L263.50,230.31 L264.00,230.07 L264.50,229.83 L265.00,229.58 L265.50,229.33 L266.00,229.08 L266.50,228.83 L267.00,228.57 L267.50,228.30 L268.00,228.04 L268.50,227.77 L269.00,227.50 L269.50,227.22 L270.00,226.94 L270.50,226.66 L271.00,226.38 L271.50,226.09 L272.00,225.80 L272.50,225.50 L273.00,225.20 L273.50,224.90 L274.00,224.60 L274.50,224.29 L275.00,223.98 L275.50,223.67 L276.00,223.35 L276.50,223.03 L277.00,222.70 L277.50,222.38 L278.00,222.05 L278.50,221.71 L279.00,221.38 L279.50,221.04 L280.00,220.69 L280.50,220.35 L281.00,220.00 L281.50,219.64 L282.00,219.29 L282.50,218.93 L283.00,218.57 L283.50,218.20 L284.00,217.84 L284.50,217.46 L285.00,217.09 L285.50,216.71 L286.00,216.33 L286.50,215.95 L287.00,215.57 L287.50,215.18 L288.00,214.79 L288.50,214.39 L289.00,214.00 L289.50,213.60 L290.00,213.20 L290.50,212.79 L291.00,212.39 L291.50,211.98 L292.00,211.57 L292.50,211.15 L293.00,210.73 L293.50,210.32 L294.00,209.90 L294.50,209.47 L295.00,209.05 L295.50,208.62 L296.00,208.19 L296.50,207.76 L297.00,207.33 L297.50,206.89 L298.00,206.46 L298.50,206.02 L299.00,205.58 L299.50,205.14 L300.00,204.70 L300.50,204.25 L301.00,203.81 L301.50,203.36 L302.00,202.92 L302.50,202.47 L303.00,202.02 L303.50,201.57 L304.00,201.12 L304.50,200.66 L305.00,200.21 L305.50,199.76 L306.00,199.31 L306.50,198.85 L307.00,198.40 L307.50,197.94 L308.00,197.49 L308.50,197.04 L309.00,196.58 L309.50,196.13 L310.00,195.67 L310.50,195.22 L311.00,194.77 L311.50,194.31 L312.00,193.86 L312.50,193.41 L313.00,192.96 L313.50,192.51 L314.00,192.06 L314.50,191.62 L315.00,191.17 L315.50,190.73 L316.00,190.29 L316.50,189.84 L317.00,189.41 L317.50,188.97 L318.00,188.53 L318.50,188.10 L319.00,187.67 L319.50,187.24 L320.00,186.81 L320.50,186.39 L321.00,185.96 L321.50,185.55 L322.00,185.13 L322.50,184.72 L323.00,184.30 L323.50,183.90 L324.00,183.49 L324.50,183.09 L325.00,182.69 L325.50,182.30 L326.00,181.91 L326.50,181.52 L327.00,181.14 L327.50,180.76 L328.00,180.39 L328.50,180.02 L329.00,179.65 L329.50,179.29 L330.00,178.93 L330.50,178.57 L331.00,178.23 L331.50,177.88 L332.00,177.54 L332.50,177.21 L333.00,176.88 L333.50,176.55 L334.00,176.24 L334.50,175.92 L335.00,175.61 L335.50,175.31 L336.00,175.01 L336.50,174.72 L337.00,174.43 L337.50,174.15 L338.00,173.88 L338.50,173.61 L339.00,173.35 L339.50,173.09 L340.00,172.84 L340.50,172.60 L341.00,172.36 L341.50,172.13 L342.00,171.90 L342.50,171.68 L343.00,171.47 L343.50,171.26 L344.00,171.07 L344.50,170.87 L345.00,170.69 L345.50,170.51 L346.00,170.34 L346.50,170.17 L347.00,170.01 L347.50,169.86 L348.00,169.72 L348.50,169.58 L349.00,169.45 L349.50,169.33 L350.00,169.21 L350.50,169.10 L351.00,169.00 L351.50,168.91 L352.00,168.82 L352.50,168.74 L353.00,168.67 L353.50,168.60 L354.00,168.55 L354.50,168.50 L355.00,168.45 L355.50,168.42 L356.00,168.39 L356.50,168.37 L357.00,168.35 L357.50,168.35 L358.00,168.35 L358.50,168.35 L359.00,168.37 L359.50,168.39 L360.00,168.42 L360.50,168.46 L361.00,168.50 L361.50,168.55 L362.00,168.61 L362.50,168.67 L363.00,168.75 L363.50,168.83 L364.00,168.91 L364.50,169.01 L365.00,169.11 L365.50,169.21 L366.00,169.33 L366.50,169.45 L367.00,169.57 L367.50,169.71 L368.00,169.85 L368.50,169.99 L369.00,170.15 L369.50,170.31 L370.00,170.47 L370.50,170.64 L371.00,170.82 L371.50,171.01 L372.00,171.20 L372.50,171.40 L373.00,171.60 L373.50,171.81 L374.00,172.02 L374.50,172.24 L375.00,172.47 L375.50,172.70 L376.00,172.93 L376.50,173.17 L377.00,173.42 L377.50,173.67 L378.00,173.93 L378.50,174.19 L379.00,174.46 L379.50,174.73 L380.00,175.01 L380.50,175.29 L381.00,175.58 L381.50,175.87 L382.00,176.16 L382.50,176.46 L383.00,176.76 L383.50,177.07 L384.00,177.38 L384.50,177.69 L385.00,178.01 L385.50,178.33 L386.00,178.66 L386.50,178.99 L387.00,179.32 L387.50,179.66 L388.00,179.99 L388.50,180.33 L389.00,180.68 L389.50,181.03 L390.00,181.38 L390.50,181.73 L391.00,182.08 L391.50,182.44 L392.00,182.80 L392.50,183.16 L393.00,183.52 L393.50,183.89 L394.00,184.25 L394.50,184.62 L395.00,184.99 L395.50,185.36 L396.00,185.74 L396.50,186.11 L397.00,186.49 L397.50,186.86 L398.00,187.24 L398.50,187.62 L399.00,188.00 L399.50,188.38 L400.00,188.76 L400.50,189.14 L401.00,189.52 L401.50,189.90 L402.00,190.29 L402.50,190.67 L403.00,191.05 L403.50,191.43 L404.00,191.81 L404.50,192.19 L405.00,192.57 L405.50,192.95 L406.00,193.33 L406.50,193.71 L407.00,194.09 L407.50,194.47 L408.00,194.85 L408.50,195.22 L409.00,195.60 L409.50,195.97 L410.00,196.34 L410.50,196.71 L411.00,197.08 L411.50,197.45 L412.00,197.82 L412.50,198.18 L413.00,198.55 L413.50,198.91 L414.00,199.27 L414.50,199.63 L415.00,199.98 L415.50,200.34 L416.00,200.69 L416.50,201.04 L417.00,201.39 L417.50,201.73 L418.00,202.08 L418.50,202.42 L419.00,202.76 L419.50,203.09 L420.00,203.43 L420.50,203.76 L421.00,204.09 L421.50,204.41 L422.00,204.74 L422.50,205.06 L423.00,205.38 L423.50,205.69 L424.00,206.00 L424.50,206.31 L425.00,206.62 L425.50,206.92 L426.00,207.23 L426.50,207.52 L427.00,207.82 L427.50,208.11 L428.00,208.40 L428.50,208.69 L429.00,208.97 L429.50,209.25 L430.00,209.53 L430.50,209.80 L431.00,210.07 L431.50,210.34 L432.00,210.60 L432.50,210.86" stroke="#800000" stroke-width="1.8"/>
</g>
<line x1="238.5" y1="243.9" x2="432.6" y2="243.9" stroke="#222" stroke-width="1.4"/>
<g fill="#0000ff" clip-path="url(#cd)">
<circle cx="319.4" cy="145.4" r="1.85"/>
<circle cx="355.5" cy="151.0" r="1.85"/>
<circle cx="372.4" cy="153.0" r="1.85"/>
<circle cx="339.7" cy="158.0" r="1.85"/>
<circle cx="310.9" cy="172.8" r="1.85"/>
<circle cx="323.8" cy="176.8" r="1.85"/>
<circle cx="331.7" cy="176.8" r="1.85"/>
<circle cx="335.7" cy="177.8" r="1.85"/>
<circle cx="364.5" cy="168.8" r="1.85"/>
<circle cx="375.4" cy="168.8" r="1.85"/>
<circle cx="306.9" cy="184.7" r="1.85"/>
<circle cx="343.6" cy="184.7" r="1.85"/>
<circle cx="368.4" cy="184.7" r="1.85"/>
<circle cx="315.8" cy="192.7" r="1.85"/>
<circle cx="351.6" cy="196.6" r="1.85"/>
<circle cx="347.6" cy="198.6" r="1.85"/>
<circle cx="359.7" cy="146.2" r="1.85"/>
<circle cx="242.2" cy="208.7" r="1.85"/>
<circle cx="238.9" cy="231.6" r="1.85"/>
<circle cx="246.0" cy="239.3" r="1.85"/>
<circle cx="250.4" cy="236.0" r="1.85"/>
<circle cx="254.9" cy="228.2" r="1.85"/>
<circle cx="258.2" cy="224.2" r="1.85"/>
<circle cx="262.7" cy="224.2" r="1.85"/>
<circle cx="266.7" cy="216.4" r="1.85"/>
<circle cx="270.4" cy="236.0" r="1.85"/>
<circle cx="274.9" cy="239.3" r="1.85"/>
<circle cx="278.9" cy="208.7" r="1.85"/>
<circle cx="286.7" cy="204.2" r="1.85"/>
<circle cx="282.7" cy="235.6" r="1.85"/>
<circle cx="291.1" cy="228.2" r="1.85"/>
<circle cx="294.9" cy="231.6" r="1.85"/>
<circle cx="298.7" cy="223.8" r="1.85"/>
<circle cx="303.1" cy="220.0" r="1.85"/>
<circle cx="327.4" cy="220.0" r="1.85"/>
<circle cx="380.3" cy="164.9" r="1.85"/>
<circle cx="384.3" cy="165.5" r="1.85"/>
<circle cx="388.3" cy="161.5" r="1.85"/>
<circle cx="396.8" cy="172.8" r="1.85"/>
<circle cx="404.7" cy="191.7" r="1.85"/>
<circle cx="412.7" cy="187.3" r="1.85"/>
<circle cx="417.2" cy="180.8" r="1.85"/>
<circle cx="391.8" cy="196.6" r="1.85"/>
<circle cx="432.5" cy="196.6" r="1.85"/>
<circle cx="424.9" cy="212.0" r="1.85"/>
<circle cx="420.9" cy="219.8" r="1.85"/>
<circle cx="429.3" cy="219.3" r="1.85"/>
<circle cx="400.4" cy="223.8" r="1.85"/>
<circle cx="408.7" cy="223.8" r="1.85"/>
</g>
<g stroke-linecap="butt">
<line x1="44.7" y1="0" x2="44.7" y2="252" stroke="#000" stroke-width="1.3"/>
<line x1="238.5" y1="0" x2="238.5" y2="252" stroke="#808080" stroke-width="1"/>
<line x1="432.6" y1="0" x2="432.6" y2="252" stroke="#000" stroke-width="1.3"/>
</g>
<g stroke="#000" stroke-width="1">
<line x1="92.2" y1="108.5" x2="92.2" y2="104.2"/>
<line x1="155.9" y1="108.5" x2="155.9" y2="104.2"/>
<line x1="219.5" y1="108.5" x2="219.5" y2="104.2"/>
<line x1="278.3" y1="108.5" x2="278.3" y2="104.2"/>
<line x1="318.7" y1="108.5" x2="318.7" y2="104.2"/>
<line x1="359.1" y1="108.5" x2="359.1" y2="104.2"/>
<line x1="399.5" y1="108.5" x2="399.5" y2="104.2"/>
<line x1="124.0" y1="108.5" x2="124.0" y2="106.2"/>
<line x1="187.7" y1="108.5" x2="187.7" y2="106.2"/>
<line x1="258.1" y1="108.5" x2="258.1" y2="106.2"/>
<line x1="298.5" y1="108.5" x2="298.5" y2="106.2"/>
<line x1="338.9" y1="108.5" x2="338.9" y2="106.2"/>
<line x1="379.3" y1="108.5" x2="379.3" y2="106.2"/>
<line x1="419.7" y1="108.5" x2="419.7" y2="106.2"/>
<line x1="45" y1="39.4" x2="50" y2="39.4"/>
<line x1="45" y1="153.3" x2="50" y2="153.3"/>
<line x1="45" y1="207.7" x2="50" y2="207.7"/>
<line x1="45" y1="4.4" x2="48" y2="4.4"/>
<line x1="45" y1="74.3" x2="48" y2="74.3"/>
<line x1="45" y1="125.3" x2="48" y2="125.3"/>
<line x1="45" y1="180.5" x2="48" y2="180.5"/>
<line x1="45" y1="235.2" x2="48" y2="235.2"/>
<line x1="432.6" y1="21.0" x2="427.8" y2="21.0"/>
<line x1="432.6" y1="184.1" x2="427.8" y2="184.1"/>
<line x1="432.6" y1="65.0" x2="430" y2="65.0"/>
<line x1="432.6" y1="144.4" x2="430" y2="144.4"/>
<line x1="432.6" y1="223.8" x2="430" y2="223.8"/>
</g>
<g fill="none" stroke-linecap="butt">
<path d="M109.5,18.5 V11.6 H193.0 V18.5" stroke="#000" stroke-width="1.1"/>
<path d="M187.3,37.8 V32.9 H238.5 M212.9,32.9 V37.8" stroke="#00ff00" stroke-width="1.3"/>
<path d="M125.2,153.5 H233.5 M125.2,153.5 V164.6 M133.2,153.5 V164.6 M141.1,153.5 V164.6 M149.4,153.5 V164.6 M157.3,153.5 V164.6 M165.6,153.5 V164.6 M173.5,153.5 V164.6 M181.6,153.5 V164.6 M189.2,153.5 V164.6 M196.6,153.5 V164.6 M204.6,153.5 V164.6 M212.2,153.5 V164.6 M219.7,153.5 V164.6 M226.8,153.5 V164.6 M233.5,153.5 V164.6" stroke="#00ff00" stroke-width="1.3"/>
<path d="M50.3,224.6 H118.9 M50.3,224.6 V235.3 M63.4,224.6 V235.3 M73.7,224.6 V235.3 M84.2,224.6 V235.3 M95.1,224.6 V235.3 M107.5,224.6 V235.3 M118.9,224.6 V235.3" stroke="#000" stroke-width="1.1"/>
</g>
<g><text x="39.4" y="42.4" font-size="10.0" text-anchor="end" stroke="#000" stroke-width="0.2">1000</text>
<text x="39.4" y="112.3" font-size="10.0" text-anchor="end" stroke="#000" stroke-width="0.2">0</text>
<text x="39.4" y="156.6" font-size="10.0" text-anchor="end" stroke="#000" stroke-width="0.2">200</text>
<text x="39.4" y="211.0" font-size="10.0" text-anchor="end" stroke="#000" stroke-width="0.2">100</text>
<text x="92.2" y="122.8" font-size="10.0" text-anchor="middle" stroke="#000" stroke-width="0.2">12.2</text>
<text x="156.2" y="122.8" font-size="10.0" text-anchor="middle" stroke="#000" stroke-width="0.2">12.4</text>
<text x="219.7" y="122.8" font-size="10.0" text-anchor="middle" stroke="#000" stroke-width="0.2">12.6</text>
<text x="278.7" y="122.9" font-size="10.0" text-anchor="middle" stroke="#000" stroke-width="0.2">5.0</text>
<text x="318.9" y="122.9" font-size="10.0" text-anchor="middle" stroke="#000" stroke-width="0.2">5.5</text>
<text x="359.3" y="122.9" font-size="10.0" text-anchor="middle" stroke="#000" stroke-width="0.2">6.0</text>
<text x="399.5" y="122.9" font-size="10.0" text-anchor="middle" stroke="#000" stroke-width="0.2">6.5</text>
<text x="438.2" y="24.8" font-size="10.0" stroke="#000" stroke-width="0.2">200</text>
<text x="438.0" y="112.3" font-size="10.0" stroke="#000" stroke-width="0.2">0</text>
<text x="438.4" y="187.7" font-size="10.0" stroke="#000" stroke-width="0.2">200</text>
<text x="58.0" y="1.5" font-size="10.0" stroke="#000" stroke-width="0.2">E</text>
<text x="63.8" y="6.1" font-size="6.5" stroke="#000" stroke-width="0.2">0</text>
<text x="67.0" y="1.5" font-size="10.0" stroke="#000" stroke-width="0.2">@1500 eV</text>
<text x="57.5" y="18.8" font-size="10.0" stroke="#000" stroke-width="0.2">θ@3.4°</text>
<text x="138.0" y="1.3" font-size="10.0" stroke="#000" stroke-width="0.2">X</text>
<text x="152.9" y="1.3" font-size="12.0" stroke="#000" stroke-width="0.2">Σ</text>
<text x="162.6" y="4.7" font-size="8.0" font-style="italic" stroke="#000" stroke-width="0.2">g</text>
<text x="112.9" y="30.0" font-size="10.0" text-anchor="end" stroke="#000" stroke-width="0.2">v'=0</text>
<text x="192.7" y="28.4" font-size="10.0" text-anchor="middle" stroke="#000" stroke-width="0.2">1</text>
<text x="154.2" y="36.7" font-size="12.0" fill="#00ff00" stroke="#00ff00" stroke-width="0.2">b</text>
<text x="160.7" y="30.9" font-size="6.5" fill="#00ff00" stroke="#00ff00" stroke-width="0.2">1</text>
<text x="164.2" y="36.8" font-size="12.0" fill="#00ff00" stroke="#00ff00" stroke-width="0.2">Π</text>
<text x="173.9" y="39.9" font-size="6.5" font-style="italic" fill="#00ff00" stroke="#00ff00" stroke-width="0.2">u</text>
<text x="190.3" y="48.4" font-size="10.0" text-anchor="end" fill="#00ff00" stroke="#00ff00" stroke-width="0.2">v'=0</text>
<text x="213.3" y="48.4" font-size="10.0" text-anchor="middle" fill="#00ff00" stroke="#00ff00" stroke-width="0.2">1</text>
<text x="249.8" y="1.5" font-size="10.0" stroke="#000" stroke-width="0.2">E</text>
<text x="255.7" y="6.1" font-size="6.5" stroke="#000" stroke-width="0.2">0</text>
<text x="258.8" y="1.5" font-size="10.0" stroke="#000" stroke-width="0.2">@1500 eV</text>
<text x="249.8" y="19.3" font-size="10.0" stroke="#000" stroke-width="0.2">θ@4°</text>
<text x="56.9" y="133.0" font-size="10.0" fill="#0000ff" stroke="#0000ff" stroke-width="0.2">(c) C</text>
<text x="77.3" y="136.6" font-size="6.5" fill="#0000ff" stroke="#0000ff" stroke-width="0.2">2</text>
<text x="80.6" y="133.0" font-size="10.0" fill="#0000ff" stroke="#0000ff" stroke-width="0.2">H</text>
<text x="87.8" y="136.6" font-size="6.5" fill="#0000ff" stroke="#0000ff" stroke-width="0.2">2</text>
<text x="57.5" y="148.9" font-size="10.0" stroke="#000" stroke-width="0.2">Electron scattering</text>
<text x="57.5" y="161.4" font-size="10.0" stroke="#000" stroke-width="0.2">E</text>
<text x="63.6" y="165.0" font-size="6.5" stroke="#000" stroke-width="0.2">0</text>
<text x="67.0" y="161.4" font-size="10.0" stroke="#000" stroke-width="0.2">@1500 eV</text>
<text x="57.1" y="179.2" font-size="10.0" stroke="#000" stroke-width="0.2">θ@5.4°</text>
<text x="170.8" y="146.0" font-size="10.0" text-anchor="middle" fill="#0000ff" stroke="#0000ff" stroke-width="0.2">B</text>
<text x="170.8" y="143.4" font-size="10.0" text-anchor="middle" fill="#0000ff" stroke="#0000ff" stroke-width="0.2">˜</text>
<text x="84.7" y="218.7" font-size="10.0" text-anchor="middle" fill="#0000ff" stroke="#0000ff" stroke-width="0.2">A</text>
<text x="84.7" y="216.2" font-size="10.0" text-anchor="middle" fill="#0000ff" stroke="#0000ff" stroke-width="0.2">˜</text>
<text x="249.1" y="137.4" font-size="10.0" fill="#0000ff" stroke="#0000ff" stroke-width="0.2">(d) O</text>
<text x="270.8" y="141.0" font-size="6.5" fill="#0000ff" stroke="#0000ff" stroke-width="0.2">2</text>
<text x="249.6" y="153.1" font-size="10.0" stroke="#000" stroke-width="0.2">X-ray scattering</text>
<text x="249.6" y="165.7" font-size="10.0" stroke="#000" stroke-width="0.2">E</text>
<text x="255.3" y="169.3" font-size="6.5" stroke="#000" stroke-width="0.2">0</text>
<text x="258.6" y="165.7" font-size="10.0" stroke="#000" stroke-width="0.2">@10 keV</text>
<text x="249.6" y="183.0" font-size="10.0" stroke="#000" stroke-width="0.2">2θ@38°</text>
<text x="356.4" y="141.1" font-size="12.0" stroke="#000" stroke-width="0.2">A</text>
<text x="366.5" y="136.6" font-size="7.0" stroke="#000" stroke-width="0.2">'3</text>
<text x="374.6" y="141.1" font-size="12.0" stroke="#000" stroke-width="0.2">Δ</text>
<text x="382.3" y="144.3" font-size="7.0" font-style="italic" stroke="#000" stroke-width="0.2">u</text>
<text transform="translate(10.2,171) rotate(-90)" font-size="14" font-weight="bold">Intensity (arb. units)</text></g></svg>
</body></html>
